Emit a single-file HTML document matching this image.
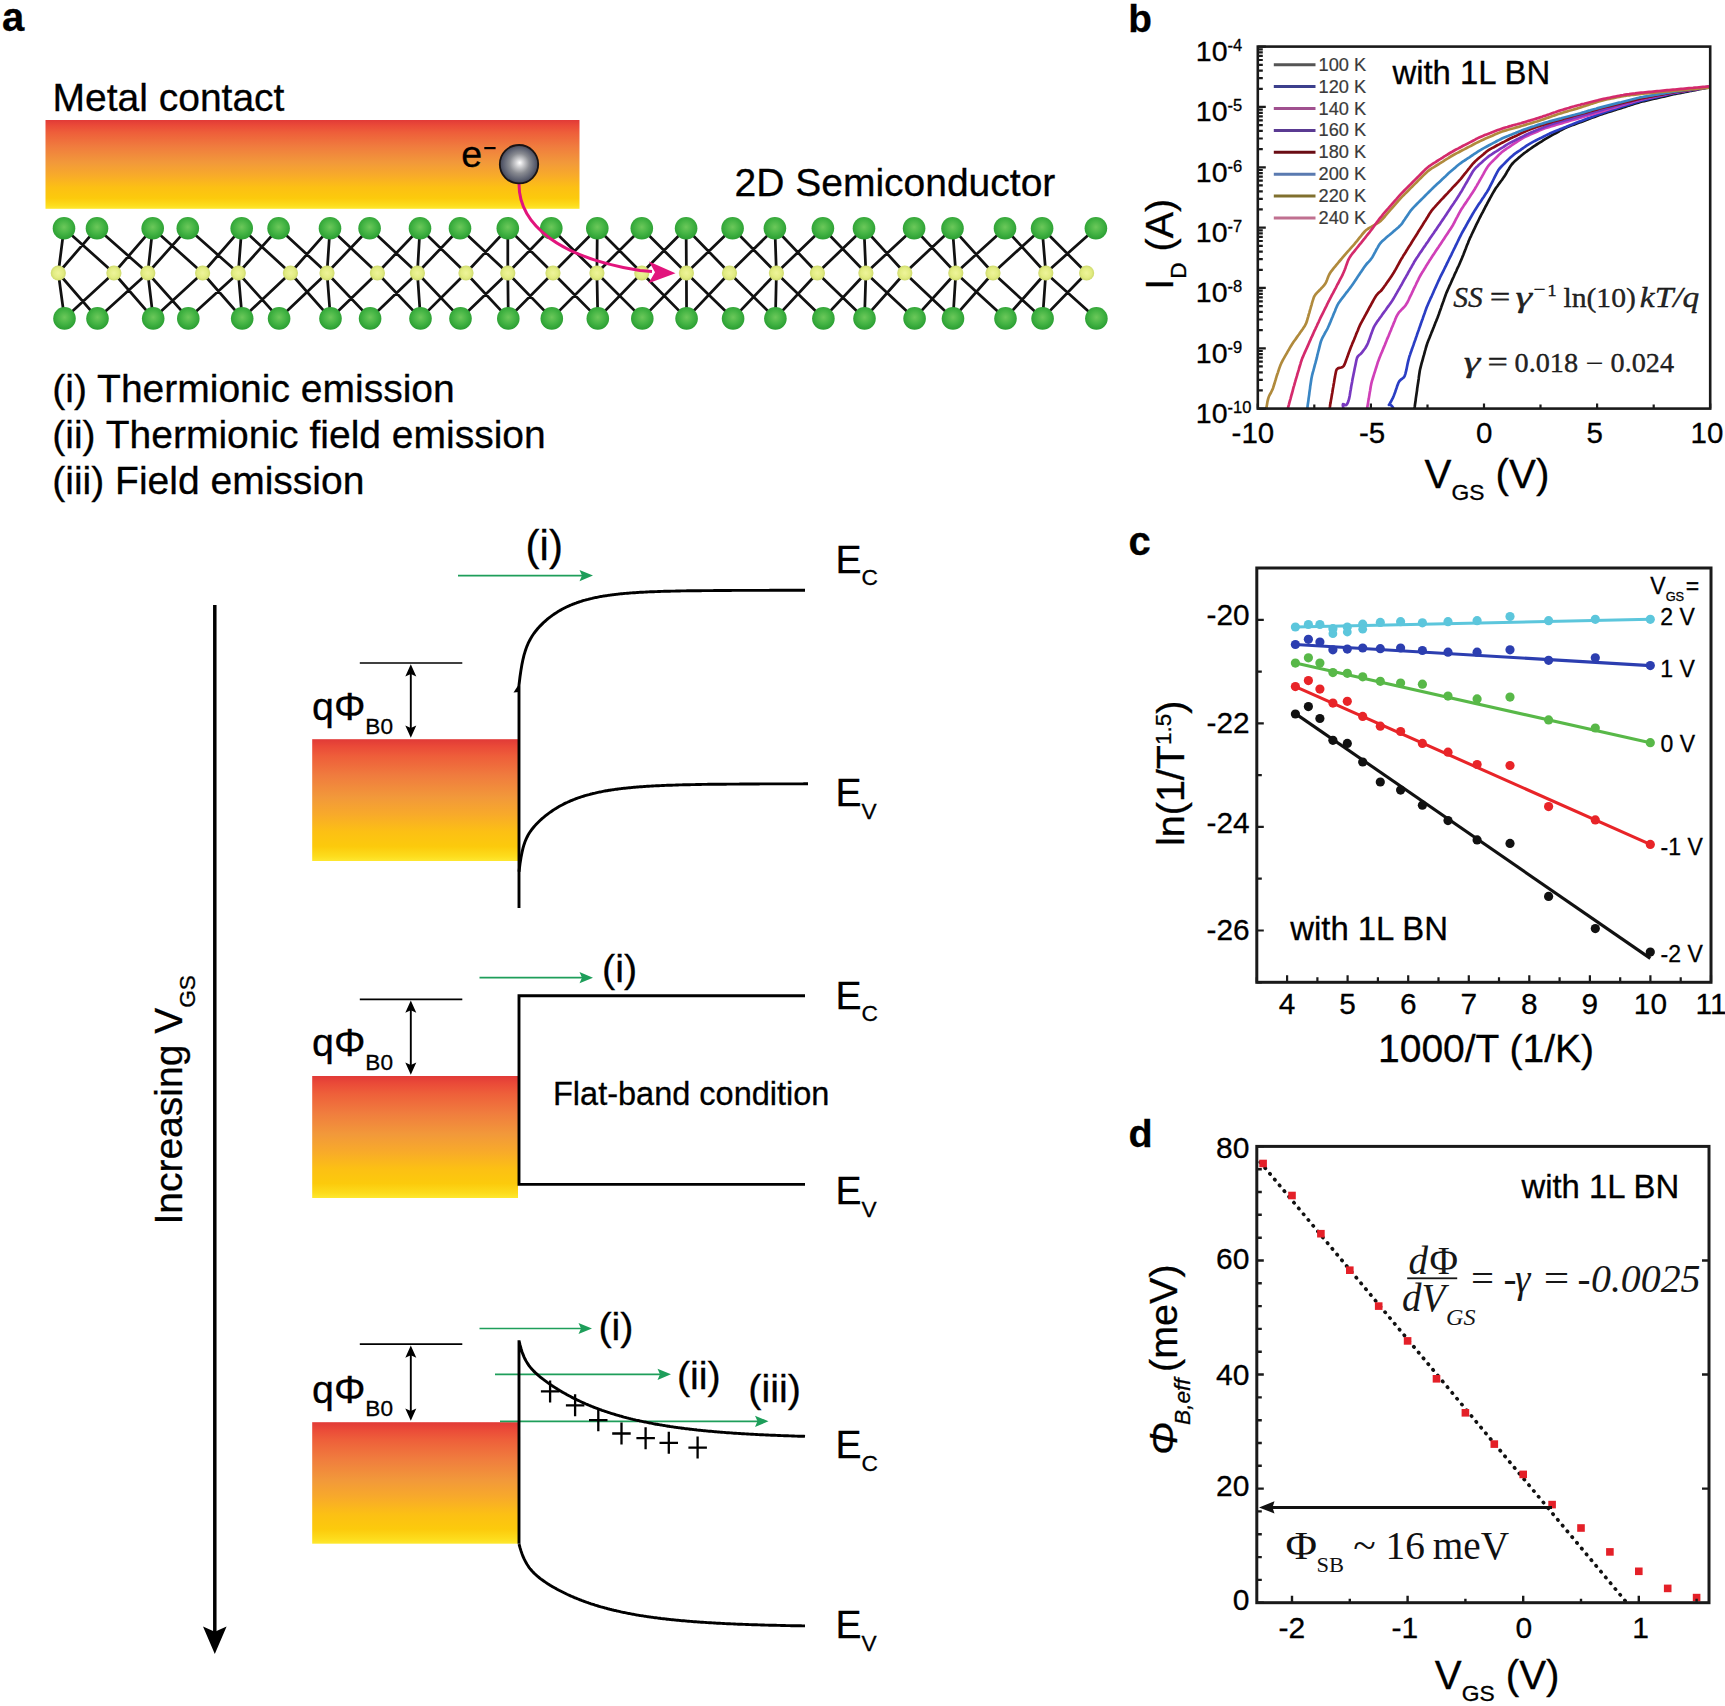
<!DOCTYPE html>
<html><head><meta charset="utf-8"><title>Figure</title>
<style>html,body{margin:0;padding:0;background:#fff;}svg{display:block;}text{stroke:#000;stroke-width:0.3px;}.ns text{stroke:none;}</style>
</head><body>
<svg width="1725" height="1706" viewBox="0 0 1725 1706">
<rect width="1725" height="1706" fill="#fff"/>

<defs>
 <linearGradient id="metal" x1="0" y1="0" x2="0" y2="1">
  <stop offset="0" stop-color="#e13a37"/>
  <stop offset="0.06" stop-color="#ea4a38"/>
  <stop offset="0.14" stop-color="#ee5e3a"/>
  <stop offset="0.3" stop-color="#f07c3e"/>
  <stop offset="0.48" stop-color="#f2993a"/>
  <stop offset="0.62" stop-color="#f8aa2a"/>
  <stop offset="0.76" stop-color="#fcc014"/>
  <stop offset="0.88" stop-color="#fcca0c"/>
  <stop offset="0.96" stop-color="#fddc1c"/>
  <stop offset="1" stop-color="#fee830"/>
 </linearGradient>
 <radialGradient id="gS" cx="0.5" cy="0.45" r="0.55">
  <stop offset="0" stop-color="#6cc85a"/>
  <stop offset="0.55" stop-color="#44b444"/>
  <stop offset="1" stop-color="#2a9e32"/>
 </radialGradient>
 <radialGradient id="gM" cx="0.5" cy="0.5" r="0.55">
  <stop offset="0" stop-color="#eef49a"/>
  <stop offset="0.6" stop-color="#e2ec82"/>
  <stop offset="1" stop-color="#c8d468"/>
 </radialGradient>
 <radialGradient id="ball" cx="0.5" cy="0.5" r="0.52" fx="0.52" fy="0.46">
  <stop offset="0" stop-color="#ffffff"/>
  <stop offset="0.18" stop-color="#d4d4d6"/>
  <stop offset="0.5" stop-color="#8a8c92"/>
  <stop offset="0.8" stop-color="#5c6070"/>
  <stop offset="1" stop-color="#3c4050"/>
 </radialGradient>
</defs>
<text x="2" y="31" font-family="'Liberation Sans', Arial, sans-serif" font-weight="bold" font-size="40">a</text>
<text x="52.5" y="110.5" font-family="'Liberation Sans', Arial, sans-serif" font-size="39">Metal contact</text>
<rect x="45.5" y="120" width="534" height="88.8" fill="url(#metal)"/>
<text x="461.2" y="166.6" font-family="'Liberation Sans', Arial, sans-serif" font-size="37.5" stroke="#000" stroke-width="0.5">e</text>
<rect x="484.3" y="147" width="11.3" height="2.2" fill="#000"/>
<path d="M58.3 273L64 228.2M58.3 273L64.5 318.4M58.3 273L97 228.2M58.3 273L97.5 318.4M147.8 273L152.7 228.2M147.8 273L153.2 318.4M147.8 273L187.8 228.2M147.8 273L188.3 318.4M147.8 273L97 228.2M147.8 273L97.5 318.4M238.3 273L241.7 228.2M238.3 273L242.2 318.4M238.3 273L278.6 228.2M238.3 273L279.1 318.4M238.3 273L187.8 228.2M238.3 273L188.3 318.4M327 273L330 228.2M327 273L330.5 318.4M327 273L369.6 228.2M327 273L370.1 318.4M327 273L278.6 228.2M327 273L279.1 318.4M417.4 273L420 228.2M417.4 273L420.5 318.4M417.4 273L460 228.2M417.4 273L460.5 318.4M417.4 273L369.6 228.2M417.4 273L370.1 318.4M507.8 273L507.8 228.2M507.8 273L508.3 318.4M507.8 273L551.3 228.2M507.8 273L551.8 318.4M507.8 273L460 228.2M507.8 273L460.5 318.4M596.9 273L597.3 228.2M596.9 273L597.8 318.4M596.9 273L641.8 228.2M596.9 273L642.3 318.4M596.9 273L551.3 228.2M596.9 273L551.8 318.4M686.4 273L686.1 228.2M686.4 273L686.6 318.4M686.4 273L732.6 228.2M686.4 273L733.1 318.4M686.4 273L641.8 228.2M686.4 273L642.3 318.4M776.4 273L774.9 228.2M776.4 273L775.4 318.4M776.4 273L822.9 228.2M776.4 273L823.4 318.4M776.4 273L732.6 228.2M776.4 273L733.1 318.4M865.9 273L864 228.2M865.9 273L864.5 318.4M865.9 273L914.1 228.2M865.9 273L914.6 318.4M865.9 273L822.9 228.2M865.9 273L823.4 318.4M955.8 273L952.5 228.2M955.8 273L953 318.4M955.8 273L1005 228.2M955.8 273L1005.5 318.4M955.8 273L914.1 228.2M955.8 273L914.6 318.4M1045.8 273L1042.1 228.2M1045.8 273L1042.6 318.4M1045.8 273L1095.9 228.2M1045.8 273L1096.4 318.4M1045.8 273L1005 228.2M1045.8 273L1005.5 318.4M113.9 273L64 228.2M113.9 273L64.5 318.4M113.9 273L152.7 228.2M113.9 273L153.2 318.4M202.6 273L152.7 228.2M202.6 273L153.2 318.4M202.6 273L241.7 228.2M202.6 273L242.2 318.4M290.4 273L241.7 228.2M290.4 273L242.2 318.4M290.4 273L330 228.2M290.4 273L330.5 318.4M377.4 273L330 228.2M377.4 273L330.5 318.4M377.4 273L420 228.2M377.4 273L420.5 318.4M466 273L420 228.2M466 273L420.5 318.4M466 273L507.8 228.2M466 273L508.3 318.4M553 273L507.8 228.2M553 273L508.3 318.4M553 273L597.3 228.2M553 273L597.8 318.4M641.8 273L597.3 228.2M641.8 273L597.8 318.4M641.8 273L686.1 228.2M641.8 273L686.6 318.4M729.5 273L686.1 228.2M729.5 273L686.6 318.4M729.5 273L774.9 228.2M729.5 273L775.4 318.4M817.4 273L774.9 228.2M817.4 273L775.4 318.4M817.4 273L864 228.2M817.4 273L864.5 318.4M904.8 273L864 228.2M904.8 273L864.5 318.4M904.8 273L952.5 228.2M904.8 273L953 318.4M993 273L952.5 228.2M993 273L953 318.4M993 273L1042.1 228.2M993 273L1042.6 318.4M1086.6 273L1042.1 228.2M1086.6 273L1042.6 318.4" stroke="#111" stroke-width="2.75" fill="none" stroke-linecap="round"/>
<circle cx="64" cy="228.2" r="11.3" fill="url(#gS)"/>
<circle cx="64.5" cy="318.4" r="11.3" fill="url(#gS)"/>
<circle cx="97" cy="228.2" r="11.3" fill="url(#gS)"/>
<circle cx="97.5" cy="318.4" r="11.3" fill="url(#gS)"/>
<circle cx="152.7" cy="228.2" r="11.3" fill="url(#gS)"/>
<circle cx="153.2" cy="318.4" r="11.3" fill="url(#gS)"/>
<circle cx="187.8" cy="228.2" r="11.3" fill="url(#gS)"/>
<circle cx="188.3" cy="318.4" r="11.3" fill="url(#gS)"/>
<circle cx="241.7" cy="228.2" r="11.3" fill="url(#gS)"/>
<circle cx="242.2" cy="318.4" r="11.3" fill="url(#gS)"/>
<circle cx="278.6" cy="228.2" r="11.3" fill="url(#gS)"/>
<circle cx="279.1" cy="318.4" r="11.3" fill="url(#gS)"/>
<circle cx="330" cy="228.2" r="11.3" fill="url(#gS)"/>
<circle cx="330.5" cy="318.4" r="11.3" fill="url(#gS)"/>
<circle cx="369.6" cy="228.2" r="11.3" fill="url(#gS)"/>
<circle cx="370.1" cy="318.4" r="11.3" fill="url(#gS)"/>
<circle cx="420" cy="228.2" r="11.3" fill="url(#gS)"/>
<circle cx="420.5" cy="318.4" r="11.3" fill="url(#gS)"/>
<circle cx="460" cy="228.2" r="11.3" fill="url(#gS)"/>
<circle cx="460.5" cy="318.4" r="11.3" fill="url(#gS)"/>
<circle cx="507.8" cy="228.2" r="11.3" fill="url(#gS)"/>
<circle cx="508.3" cy="318.4" r="11.3" fill="url(#gS)"/>
<circle cx="551.3" cy="228.2" r="11.3" fill="url(#gS)"/>
<circle cx="551.8" cy="318.4" r="11.3" fill="url(#gS)"/>
<circle cx="597.3" cy="228.2" r="11.3" fill="url(#gS)"/>
<circle cx="597.8" cy="318.4" r="11.3" fill="url(#gS)"/>
<circle cx="641.8" cy="228.2" r="11.3" fill="url(#gS)"/>
<circle cx="642.3" cy="318.4" r="11.3" fill="url(#gS)"/>
<circle cx="686.1" cy="228.2" r="11.3" fill="url(#gS)"/>
<circle cx="686.6" cy="318.4" r="11.3" fill="url(#gS)"/>
<circle cx="732.6" cy="228.2" r="11.3" fill="url(#gS)"/>
<circle cx="733.1" cy="318.4" r="11.3" fill="url(#gS)"/>
<circle cx="774.9" cy="228.2" r="11.3" fill="url(#gS)"/>
<circle cx="775.4" cy="318.4" r="11.3" fill="url(#gS)"/>
<circle cx="822.9" cy="228.2" r="11.3" fill="url(#gS)"/>
<circle cx="823.4" cy="318.4" r="11.3" fill="url(#gS)"/>
<circle cx="864" cy="228.2" r="11.3" fill="url(#gS)"/>
<circle cx="864.5" cy="318.4" r="11.3" fill="url(#gS)"/>
<circle cx="914.1" cy="228.2" r="11.3" fill="url(#gS)"/>
<circle cx="914.6" cy="318.4" r="11.3" fill="url(#gS)"/>
<circle cx="952.5" cy="228.2" r="11.3" fill="url(#gS)"/>
<circle cx="953" cy="318.4" r="11.3" fill="url(#gS)"/>
<circle cx="1005" cy="228.2" r="11.3" fill="url(#gS)"/>
<circle cx="1005.5" cy="318.4" r="11.3" fill="url(#gS)"/>
<circle cx="1042.1" cy="228.2" r="11.3" fill="url(#gS)"/>
<circle cx="1042.6" cy="318.4" r="11.3" fill="url(#gS)"/>
<circle cx="1095.9" cy="228.2" r="11.3" fill="url(#gS)"/>
<circle cx="1096.4" cy="318.4" r="11.3" fill="url(#gS)"/>
<circle cx="58.3" cy="273" r="7.6" fill="url(#gM)"/>
<circle cx="113.9" cy="273" r="7.6" fill="url(#gM)"/>
<circle cx="147.8" cy="273" r="7.6" fill="url(#gM)"/>
<circle cx="202.6" cy="273" r="7.6" fill="url(#gM)"/>
<circle cx="238.3" cy="273" r="7.6" fill="url(#gM)"/>
<circle cx="290.4" cy="273" r="7.6" fill="url(#gM)"/>
<circle cx="327" cy="273" r="7.6" fill="url(#gM)"/>
<circle cx="377.4" cy="273" r="7.6" fill="url(#gM)"/>
<circle cx="417.4" cy="273" r="7.6" fill="url(#gM)"/>
<circle cx="466" cy="273" r="7.6" fill="url(#gM)"/>
<circle cx="507.8" cy="273" r="7.6" fill="url(#gM)"/>
<circle cx="553" cy="273" r="7.6" fill="url(#gM)"/>
<circle cx="596.9" cy="273" r="7.6" fill="url(#gM)"/>
<circle cx="641.8" cy="273" r="7.6" fill="url(#gM)"/>
<circle cx="686.4" cy="273" r="7.6" fill="url(#gM)"/>
<circle cx="729.5" cy="273" r="7.6" fill="url(#gM)"/>
<circle cx="776.4" cy="273" r="7.6" fill="url(#gM)"/>
<circle cx="817.4" cy="273" r="7.6" fill="url(#gM)"/>
<circle cx="865.9" cy="273" r="7.6" fill="url(#gM)"/>
<circle cx="904.8" cy="273" r="7.6" fill="url(#gM)"/>
<circle cx="955.8" cy="273" r="7.6" fill="url(#gM)"/>
<circle cx="993" cy="273" r="7.6" fill="url(#gM)"/>
<circle cx="1045.8" cy="273" r="7.6" fill="url(#gM)"/>
<circle cx="1086.6" cy="273" r="7.6" fill="url(#gM)"/>
<path d="M519 184 C519 225 560 258 640 270.5 L652 271.6" stroke="#e2147c" stroke-width="3" fill="none"/>
<path d="M675.5 273.2 L649 261.5 L655 272.2 L648.5 283.2 Z" fill="#e2147c"/>
<circle cx="519" cy="164.2" r="19.2" fill="url(#ball)" stroke="#1a1414" stroke-width="1.8"/>
<text x="734.5" y="195.5" font-family="'Liberation Sans', Arial, sans-serif" font-size="39">2D Semiconductor</text>
<text x="52.3" y="401.6" font-family="'Liberation Sans', Arial, sans-serif" font-size="39">(i) Thermionic emission</text>
<text x="52.3" y="447.6" font-family="'Liberation Sans', Arial, sans-serif" font-size="39">(ii) Thermionic field emission</text>
<text x="52.3" y="493.6" font-family="'Liberation Sans', Arial, sans-serif" font-size="39">(iii) Field emission</text>
<rect x="312.2" y="739.2" width="205.8" height="121.8" fill="url(#metal)"/>
<text x="525.6" y="559.7" font-family="'Liberation Sans', Arial, sans-serif" font-size="42">(i)</text>
<line x1="458" y1="575.6" x2="587" y2="575.6" stroke="#1e9e5a" stroke-width="1.7"/>
<path d="M593 575.6 L579.5 570 L582 575.6 L579.5 581.2 Z" fill="#1e9e5a"/>
<path d="M805 590.3 L804 590.3 L803 590.3 L802 590.3 L801 590.3 L800 590.3 L799 590.3 L798 590.3 L797 590.3 L796 590.3 L795 590.3 L794 590.3 L793 590.3 L792 590.3 L791 590.3 L790 590.3 L789 590.3 L788 590.3 L787 590.3 L786 590.3 L785 590.3 L784 590.3 L783 590.3 L782 590.3 L781 590.3 L780 590.3 L779 590.3 L778 590.3 L777 590.3 L776 590.3 L775 590.3 L774 590.3 L773 590.3 L772 590.3 L771 590.3 L770 590.3 L769 590.4 L768 590.4 L767 590.4 L766 590.4 L765 590.4 L764 590.4 L763 590.4 L762 590.4 L761 590.4 L760 590.4 L759 590.4 L758 590.4 L757 590.4 L756 590.4 L755 590.4 L754 590.4 L753 590.4 L752 590.4 L751 590.4 L750 590.4 L749 590.4 L748 590.4 L747 590.4 L746 590.4 L745 590.4 L744 590.4 L743 590.4 L742 590.4 L741 590.4 L740 590.4 L739 590.4 L738 590.4 L737 590.4 L736 590.4 L735 590.4 L734 590.4 L733 590.4 L732 590.4 L731 590.5 L730 590.5 L729 590.5 L728 590.5 L727 590.5 L726 590.5 L725 590.5 L724 590.5 L723 590.5 L722 590.5 L721 590.5 L720 590.5 L719 590.5 L718 590.5 L717 590.5 L716 590.5 L715 590.5 L714 590.5 L713 590.6 L712 590.6 L711 590.6 L710 590.6 L709 590.6 L708 590.6 L707 590.6 L706 590.6 L705 590.6 L704 590.6 L703 590.6 L702 590.6 L701 590.7 L700 590.7 L699 590.7 L698 590.7 L697 590.7 L696 590.7 L695 590.7 L694 590.7 L693 590.8 L692 590.8 L691 590.8 L690 590.8 L689 590.8 L688 590.8 L687 590.8 L686 590.9 L685 590.9 L684 590.9 L683 590.9 L682 590.9 L681 590.9 L680 591 L679 591 L678 591 L677 591 L676 591 L675 591.1 L674 591.1 L673 591.1 L672 591.1 L671 591.1 L670 591.2 L669 591.2 L668 591.2 L667 591.2 L666 591.3 L665 591.3 L664 591.3 L663 591.4 L662 591.4 L661 591.4 L660 591.5 L659 591.5 L658 591.5 L657 591.6 L656 591.6 L655 591.6 L654 591.7 L653 591.7 L652 591.8 L651 591.8 L650 591.8 L649 591.9 L648 591.9 L647 592 L646 592 L645 592.1 L644 592.1 L643 592.2 L642 592.2 L641 592.3 L640 592.3 L639 592.4 L638 592.5 L637 592.5 L636 592.6 L635 592.7 L634 592.7 L633 592.8 L632 592.9 L631 592.9 L630 593 L629 593.1 L628 593.2 L627 593.3 L626 593.4 L625 593.4 L624 593.5 L623 593.6 L622 593.7 L621 593.8 L620 593.9 L619 594 L618 594.1 L617 594.3 L616 594.4 L615 594.5 L614 594.6 L613 594.7 L612 594.9 L611 595 L610 595.1 L609 595.3 L608 595.4 L607 595.6 L606 595.7 L605 595.9 L604 596 L603 596.2 L602 596.4 L601 596.5 L600 596.7 L599 596.9 L598 597.1 L597 597.3 L596 597.5 L595 597.7 L594 597.9 L593 598.1 L592 598.4 L591 598.6 L590 598.8 L589 599.1 L588 599.4 L587 599.6 L586 599.9 L585 600.2 L584 600.4 L583 600.7 L582 601 L581 601.4 L580 601.7 L579 602 L578 602.3 L577 602.7 L576 603.1 L575 603.4 L574 603.8 L573 604.2 L572 604.6 L571 605 L570 605.4 L569 605.9 L568 606.3 L567 606.8 L566 607.3 L565 607.8 L564 608.3 L563 608.8 L562 609.3 L561 609.9 L560 610.4 L559 611 L558 611.6 L557 612.3 L556 612.9 L555 613.5 L554 614.2 L553 614.9 L552 615.6 L551 616.4 L550 617.1 L549 617.9 L548 618.7 L547 619.5 L546 620.4 L545 621.3 L544 622.2 L543 623.1 L542 624.1 L541 625.1 L540 626.1 L539 627.2 L538 628.3 L537 629.5 L536 630.7 L535 632 L534 633.3 L533 634.8 L532 636.3 L531 637.9 L530 639.7 L529 641.6 L528 643.7 L527 646.1 L526 648.7 L525 651.8 L524 655.2 L523 659.3 L522 664.1 L521 669.9 L520 676.8 L519 685 L519 908" stroke="#000" stroke-width="2.9" fill="none" stroke-linejoin="round"/>
<path d="M519 871.8 L520 863.8 L521 857.5 L522 852.4 L523 848.2 L524 844.7 L525 841.8 L526 839.4 L527 837.2 L528 835.3 L529 833.6 L530 832 L531 830.6 L532 829.2 L533 828 L534 826.8 L535 825.6 L536 824.5 L537 823.5 L538 822.5 L539 821.5 L540 820.5 L541 819.6 L542 818.7 L543 817.9 L544 817 L545 816.2 L546 815.4 L547 814.6 L548 813.8 L549 813.1 L550 812.4 L551 811.7 L552 811 L553 810.3 L554 809.6 L555 809 L556 808.4 L557 807.8 L558 807.2 L559 806.6 L560 806 L561 805.5 L562 805 L563 804.4 L564 803.9 L565 803.4 L566 802.9 L567 802.5 L568 802 L569 801.6 L570 801.1 L571 800.7 L572 800.3 L573 799.9 L574 799.5 L575 799.1 L576 798.7 L577 798.3 L578 798 L579 797.6 L580 797.3 L581 797 L582 796.6 L583 796.3 L584 796 L585 795.7 L586 795.4 L587 795.1 L588 794.8 L589 794.6 L590 794.3 L591 794 L592 793.8 L593 793.5 L594 793.3 L595 793.1 L596 792.8 L597 792.6 L598 792.4 L599 792.2 L600 792 L601 791.8 L602 791.6 L603 791.4 L604 791.2 L605 791 L606 790.8 L607 790.7 L608 790.5 L609 790.3 L610 790.2 L611 790 L612 789.9 L613 789.7 L614 789.6 L615 789.4 L616 789.3 L617 789.2 L618 789 L619 788.9 L620 788.8 L621 788.6 L622 788.5 L623 788.4 L624 788.3 L625 788.2 L626 788.1 L627 788 L628 787.9 L629 787.8 L630 787.7 L631 787.6 L632 787.5 L633 787.4 L634 787.3 L635 787.2 L636 787.1 L637 787 L638 787 L639 786.9 L640 786.8 L641 786.7 L642 786.7 L643 786.6 L644 786.5 L645 786.5 L646 786.4 L647 786.3 L648 786.3 L649 786.2 L650 786.1 L651 786.1 L652 786 L653 786 L654 785.9 L655 785.9 L656 785.8 L657 785.8 L658 785.7 L659 785.7 L660 785.6 L661 785.6 L662 785.5 L663 785.5 L664 785.5 L665 785.4 L666 785.4 L667 785.3 L668 785.3 L669 785.3 L670 785.2 L671 785.2 L672 785.2 L673 785.1 L674 785.1 L675 785.1 L676 785 L677 785 L678 785 L679 784.9 L680 784.9 L681 784.9 L682 784.9 L683 784.8 L684 784.8 L685 784.8 L686 784.8 L687 784.7 L688 784.7 L689 784.7 L690 784.7 L691 784.6 L692 784.6 L693 784.6 L694 784.6 L695 784.6 L696 784.5 L697 784.5 L698 784.5 L699 784.5 L700 784.5 L701 784.5 L702 784.4 L703 784.4 L704 784.4 L705 784.4 L706 784.4 L707 784.4 L708 784.3 L709 784.3 L710 784.3 L711 784.3 L712 784.3 L713 784.3 L714 784.3 L715 784.3 L716 784.3 L717 784.2 L718 784.2 L719 784.2 L720 784.2 L721 784.2 L722 784.2 L723 784.2 L724 784.2 L725 784.2 L726 784.2 L727 784.1 L728 784.1 L729 784.1 L730 784.1 L731 784.1 L732 784.1 L733 784.1 L734 784.1 L735 784.1 L736 784.1 L737 784.1 L738 784.1 L739 784.1 L740 784 L741 784 L742 784 L743 784 L744 784 L745 784 L746 784 L747 784 L748 784 L749 784 L750 784 L751 784 L752 784 L753 784 L754 784 L755 784 L756 784 L757 784 L758 784 L759 784 L760 783.9 L761 783.9 L762 783.9 L763 783.9 L764 783.9 L765 783.9 L766 783.9 L767 783.9 L768 783.9 L769 783.9 L770 783.9 L771 783.9 L772 783.9 L773 783.9 L774 783.9 L775 783.9 L776 783.9 L777 783.9 L778 783.9 L779 783.9 L780 783.9 L781 783.9 L782 783.9 L783 783.9 L784 783.9 L785 783.9 L786 783.9 L787 783.9 L788 783.9 L789 783.9 L790 783.9 L791 783.9 L792 783.9 L793 783.9 L794 783.9 L795 783.9 L796 783.9 L797 783.9 L798 783.9 L799 783.9 L800 783.9 L801 783.9 L802 783.9 L803 783.9 L804 783.8 L805 783.8 L806 783.8 L807 783.8 L808 783.8" stroke="#000" stroke-width="2.9" fill="none"/>
<path d="M519 684 L513.5 692.5 L519 692 Z" fill="#000"/>
<line x1="359.8" y1="663" x2="462.3" y2="663" stroke="#000" stroke-width="1.7"/>
<line x1="410.8" y1="671.5" x2="410.8" y2="730.5" stroke="#000" stroke-width="1.9"/>
<path d="M410.8 664.3 L405.3 676.5 L410.8 674 L416.3 676.5 Z" fill="#000"/>
<path d="M410.8 737.7 L405.3 725.5 L410.8 728 L416.3 725.5 Z" fill="#000"/>
<text x="312" y="720" font-family="'Liberation Sans', Arial, sans-serif" font-size="39.4">qΦ<tspan font-size="22.6" dy="13.5">B0</tspan></text>
<text x="835.5" y="572.6" font-family="'Liberation Sans', Arial, sans-serif" font-size="39">E<tspan font-size="22.7" dy="12.5">C</tspan></text>
<text x="835.5" y="806" font-family="'Liberation Sans', Arial, sans-serif" font-size="39">E<tspan font-size="22.7" dy="12.5">V</tspan></text>
<rect x="312.2" y="1076" width="205.8" height="122" fill="url(#metal)"/>
<text x="602" y="982.4" font-family="'Liberation Sans', Arial, sans-serif" font-size="39.5">(i)</text>
<line x1="479.5" y1="977.7" x2="587" y2="977.7" stroke="#1e9e5a" stroke-width="1.7"/>
<path d="M593 977.7 L579.5 972.1 L582 977.7 L579.5 983.3 Z" fill="#1e9e5a"/>
<path d="M805 995.8 L519 995.8 L519 1184.4 L805 1184.4" stroke="#000" stroke-width="2.9" fill="none" stroke-linejoin="miter"/>
<line x1="359.8" y1="999.3" x2="462.3" y2="999.3" stroke="#000" stroke-width="1.7"/>
<line x1="410.8" y1="1007.8" x2="410.8" y2="1067.5" stroke="#000" stroke-width="1.9"/>
<path d="M410.8 1000.6 L405.3 1012.8 L410.8 1010.3 L416.3 1012.8 Z" fill="#000"/>
<path d="M410.8 1074.7 L405.3 1062.5 L410.8 1065 L416.3 1062.5 Z" fill="#000"/>
<text x="312" y="1056" font-family="'Liberation Sans', Arial, sans-serif" font-size="39.4">qΦ<tspan font-size="22.6" dy="13.5">B0</tspan></text>
<text x="553" y="1105.3" font-family="'Liberation Sans', Arial, sans-serif" font-size="32.5">Flat-band condition</text>
<text x="835.5" y="1008.5" font-family="'Liberation Sans', Arial, sans-serif" font-size="39">E<tspan font-size="22.7" dy="12.5">C</tspan></text>
<text x="835.5" y="1204" font-family="'Liberation Sans', Arial, sans-serif" font-size="39">E<tspan font-size="22.7" dy="12.5">V</tspan></text>
<rect x="312.2" y="1422.2" width="205.8" height="121.5" fill="url(#metal)"/>
<line x1="479.5" y1="1328.5" x2="586" y2="1328.5" stroke="#1e9e5a" stroke-width="1.7"/>
<path d="M592 1328.5 L578.5 1322.9 L581 1328.5 L578.5 1334.1 Z" fill="#1e9e5a"/>
<line x1="495" y1="1374.3" x2="665" y2="1374.3" stroke="#1e9e5a" stroke-width="1.7"/>
<path d="M671 1374.3 L657.5 1368.7 L660 1374.3 L657.5 1379.9 Z" fill="#1e9e5a"/>
<line x1="500" y1="1421.3" x2="762.5" y2="1421.3" stroke="#1e9e5a" stroke-width="1.7"/>
<path d="M768.5 1421.3 L755 1415.7 L757.5 1421.3 L755 1426.9 Z" fill="#1e9e5a"/>
<text x="598.4" y="1340" font-family="'Liberation Sans', Arial, sans-serif" font-size="39.5">(i)</text>
<text x="676.9" y="1389.1" font-family="'Liberation Sans', Arial, sans-serif" font-size="39.5">(ii)</text>
<text x="748.3" y="1401.8" font-family="'Liberation Sans', Arial, sans-serif" font-size="39.5">(iii)</text>
<path d="M805 1436.4 L804 1436.3 L803 1436.3 L802 1436.3 L801 1436.2 L800 1436.2 L799 1436.2 L798 1436.2 L797 1436.1 L796 1436.1 L795 1436.1 L794 1436 L793 1436 L792 1436 L791 1435.9 L790 1435.9 L789 1435.9 L788 1435.8 L787 1435.8 L786 1435.8 L785 1435.7 L784 1435.7 L783 1435.6 L782 1435.6 L781 1435.6 L780 1435.5 L779 1435.5 L778 1435.5 L777 1435.4 L776 1435.4 L775 1435.3 L774 1435.3 L773 1435.3 L772 1435.2 L771 1435.2 L770 1435.1 L769 1435.1 L768 1435 L767 1435 L766 1435 L765 1434.9 L764 1434.9 L763 1434.8 L762 1434.8 L761 1434.7 L760 1434.7 L759 1434.6 L758 1434.6 L757 1434.5 L756 1434.5 L755 1434.4 L754 1434.4 L753 1434.3 L752 1434.3 L751 1434.2 L750 1434.1 L749 1434.1 L748 1434 L747 1434 L746 1433.9 L745 1433.9 L744 1433.8 L743 1433.7 L742 1433.7 L741 1433.6 L740 1433.5 L739 1433.5 L738 1433.4 L737 1433.4 L736 1433.3 L735 1433.2 L734 1433.2 L733 1433.1 L732 1433 L731 1432.9 L730 1432.9 L729 1432.8 L728 1432.7 L727 1432.7 L726 1432.6 L725 1432.5 L724 1432.4 L723 1432.4 L722 1432.3 L721 1432.2 L720 1432.1 L719 1432 L718 1432 L717 1431.9 L716 1431.8 L715 1431.7 L714 1431.6 L713 1431.5 L712 1431.4 L711 1431.3 L710 1431.3 L709 1431.2 L708 1431.1 L707 1431 L706 1430.9 L705 1430.8 L704 1430.7 L703 1430.6 L702 1430.5 L701 1430.4 L700 1430.3 L699 1430.2 L698 1430.1 L697 1430 L696 1429.8 L695 1429.7 L694 1429.6 L693 1429.5 L692 1429.4 L691 1429.3 L690 1429.2 L689 1429 L688 1428.9 L687 1428.8 L686 1428.7 L685 1428.6 L684 1428.4 L683 1428.3 L682 1428.2 L681 1428 L680 1427.9 L679 1427.8 L678 1427.6 L677 1427.5 L676 1427.4 L675 1427.2 L674 1427.1 L673 1426.9 L672 1426.8 L671 1426.6 L670 1426.5 L669 1426.3 L668 1426.2 L667 1426 L666 1425.9 L665 1425.7 L664 1425.5 L663 1425.4 L662 1425.2 L661 1425 L660 1424.9 L659 1424.7 L658 1424.5 L657 1424.3 L656 1424.2 L655 1424 L654 1423.8 L653 1423.6 L652 1423.4 L651 1423.2 L650 1423 L649 1422.8 L648 1422.6 L647 1422.4 L646 1422.2 L645 1422 L644 1421.8 L643 1421.6 L642 1421.4 L641 1421.2 L640 1421 L639 1420.7 L638 1420.5 L637 1420.3 L636 1420.1 L635 1419.8 L634 1419.6 L633 1419.4 L632 1419.1 L631 1418.9 L630 1418.6 L629 1418.4 L628 1418.1 L627 1417.9 L626 1417.6 L625 1417.3 L624 1417.1 L623 1416.8 L622 1416.5 L621 1416.2 L620 1416 L619 1415.7 L618 1415.4 L617 1415.1 L616 1414.8 L615 1414.5 L614 1414.2 L613 1413.9 L612 1413.6 L611 1413.3 L610 1413 L609 1412.6 L608 1412.3 L607 1412 L606 1411.6 L605 1411.3 L604 1411 L603 1410.6 L602 1410.3 L601 1409.9 L600 1409.5 L599 1409.2 L598 1408.8 L597 1408.4 L596 1408 L595 1407.7 L594 1407.3 L593 1406.9 L592 1406.5 L591 1406.1 L590 1405.7 L589 1405.3 L588 1404.8 L587 1404.4 L586 1404 L585 1403.5 L584 1403.1 L583 1402.7 L582 1402.2 L581 1401.7 L580 1401.3 L579 1400.8 L578 1400.3 L577 1399.9 L576 1399.4 L575 1398.9 L574 1398.4 L573 1397.9 L572 1397.4 L571 1396.8 L570 1396.3 L569 1395.8 L568 1395.2 L567 1394.7 L566 1394.1 L565 1393.6 L564 1393 L563 1392.4 L562 1391.9 L561 1391.3 L560 1390.7 L559 1390.1 L558 1389.5 L557 1388.8 L556 1388.2 L555 1387.6 L554 1386.9 L553 1386.3 L552 1385.6 L551 1384.9 L550 1384.3 L549 1383.6 L548 1382.9 L547 1382.2 L546 1381.4 L545 1380.7 L544 1379.9 L543 1379.2 L542 1378.4 L541 1377.6 L540 1376.8 L539 1376 L538 1375.1 L537 1374.2 L536 1373.3 L535 1372.4 L534 1371.4 L533 1370.3 L532 1369.3 L531 1368.1 L530 1366.9 L529 1365.6 L528 1364.1 L527 1362.6 L526 1360.9 L525 1359 L524 1356.8 L523 1354.4 L522 1351.7 L521 1348.5 L520 1344.9 L519 1340.6 L519 1340.3 L519 1543.7" stroke="#000" stroke-width="2.9" fill="none"/>
<path d="M519 1544 L520 1547.7 L521 1550.9 L522 1553.8 L523 1556.4 L524 1558.7 L525 1560.7 L526 1562.6 L527 1564.3 L528 1565.8 L529 1567.3 L530 1568.6 L531 1569.8 L532 1571 L533 1572 L534 1573.1 L535 1574 L536 1575 L537 1575.8 L538 1576.7 L539 1577.5 L540 1578.3 L541 1579.1 L542 1579.8 L543 1580.5 L544 1581.2 L545 1581.9 L546 1582.6 L547 1583.3 L548 1583.9 L549 1584.5 L550 1585.2 L551 1585.8 L552 1586.4 L553 1586.9 L554 1587.5 L555 1588.1 L556 1588.6 L557 1589.2 L558 1589.7 L559 1590.3 L560 1590.8 L561 1591.3 L562 1591.8 L563 1592.3 L564 1592.8 L565 1593.3 L566 1593.8 L567 1594.3 L568 1594.7 L569 1595.2 L570 1595.6 L571 1596.1 L572 1596.5 L573 1596.9 L574 1597.4 L575 1597.8 L576 1598.2 L577 1598.6 L578 1599 L579 1599.4 L580 1599.8 L581 1600.2 L582 1600.6 L583 1600.9 L584 1601.3 L585 1601.7 L586 1602 L587 1602.4 L588 1602.7 L589 1603.1 L590 1603.4 L591 1603.8 L592 1604.1 L593 1604.4 L594 1604.7 L595 1605.1 L596 1605.4 L597 1605.7 L598 1606 L599 1606.3 L600 1606.6 L601 1606.9 L602 1607.1 L603 1607.4 L604 1607.7 L605 1608 L606 1608.2 L607 1608.5 L608 1608.8 L609 1609 L610 1609.3 L611 1609.5 L612 1609.8 L613 1610 L614 1610.3 L615 1610.5 L616 1610.7 L617 1611 L618 1611.2 L619 1611.4 L620 1611.6 L621 1611.9 L622 1612.1 L623 1612.3 L624 1612.5 L625 1612.7 L626 1612.9 L627 1613.1 L628 1613.3 L629 1613.5 L630 1613.7 L631 1613.9 L632 1614.1 L633 1614.2 L634 1614.4 L635 1614.6 L636 1614.8 L637 1615 L638 1615.1 L639 1615.3 L640 1615.5 L641 1615.6 L642 1615.8 L643 1615.9 L644 1616.1 L645 1616.3 L646 1616.4 L647 1616.6 L648 1616.7 L649 1616.9 L650 1617 L651 1617.1 L652 1617.3 L653 1617.4 L654 1617.6 L655 1617.7 L656 1617.8 L657 1617.9 L658 1618.1 L659 1618.2 L660 1618.3 L661 1618.5 L662 1618.6 L663 1618.7 L664 1618.8 L665 1618.9 L666 1619 L667 1619.2 L668 1619.3 L669 1619.4 L670 1619.5 L671 1619.6 L672 1619.7 L673 1619.8 L674 1619.9 L675 1620 L676 1620.1 L677 1620.2 L678 1620.3 L679 1620.4 L680 1620.5 L681 1620.6 L682 1620.7 L683 1620.8 L684 1620.8 L685 1620.9 L686 1621 L687 1621.1 L688 1621.2 L689 1621.3 L690 1621.4 L691 1621.4 L692 1621.5 L693 1621.6 L694 1621.7 L695 1621.7 L696 1621.8 L697 1621.9 L698 1622 L699 1622 L700 1622.1 L701 1622.2 L702 1622.2 L703 1622.3 L704 1622.4 L705 1622.4 L706 1622.5 L707 1622.6 L708 1622.6 L709 1622.7 L710 1622.8 L711 1622.8 L712 1622.9 L713 1622.9 L714 1623 L715 1623 L716 1623.1 L717 1623.2 L718 1623.2 L719 1623.3 L720 1623.3 L721 1623.4 L722 1623.4 L723 1623.5 L724 1623.5 L725 1623.6 L726 1623.6 L727 1623.7 L728 1623.7 L729 1623.8 L730 1623.8 L731 1623.9 L732 1623.9 L733 1623.9 L734 1624 L735 1624 L736 1624.1 L737 1624.1 L738 1624.2 L739 1624.2 L740 1624.2 L741 1624.3 L742 1624.3 L743 1624.4 L744 1624.4 L745 1624.4 L746 1624.5 L747 1624.5 L748 1624.5 L749 1624.6 L750 1624.6 L751 1624.6 L752 1624.7 L753 1624.7 L754 1624.7 L755 1624.8 L756 1624.8 L757 1624.8 L758 1624.9 L759 1624.9 L760 1624.9 L761 1625 L762 1625 L763 1625 L764 1625 L765 1625.1 L766 1625.1 L767 1625.1 L768 1625.1 L769 1625.2 L770 1625.2 L771 1625.2 L772 1625.2 L773 1625.3 L774 1625.3 L775 1625.3 L776 1625.3 L777 1625.4 L778 1625.4 L779 1625.4 L780 1625.4 L781 1625.5 L782 1625.5 L783 1625.5 L784 1625.5 L785 1625.5 L786 1625.6 L787 1625.6 L788 1625.6 L789 1625.6 L790 1625.6 L791 1625.7 L792 1625.7 L793 1625.7 L794 1625.7 L795 1625.7 L796 1625.8 L797 1625.8 L798 1625.8 L799 1625.8 L800 1625.8 L801 1625.8 L802 1625.9 L803 1625.9 L804 1625.9 L805 1625.9" stroke="#000" stroke-width="2.9" fill="none"/>
<path d="M540.9 1391.4h18.5M550.1 1380.4v22M565.9 1405.3h18.5M575.1 1394.3v22M589 1420.2h18.5M598.3 1409.2v22M612.2 1433.5h18.5M621.5 1422.5v22M636.4 1438.2h18.5M645.6 1427.2v22M659.5 1442.8h18.5M668.8 1431.8v22M688.4 1447.6h18.5M697.6 1436.6v22" stroke="#000" stroke-width="2.3" fill="none"/>
<line x1="359.8" y1="1344.2" x2="462.3" y2="1344.2" stroke="#000" stroke-width="1.7"/>
<line x1="410.8" y1="1352.7" x2="410.8" y2="1413.5" stroke="#000" stroke-width="1.9"/>
<path d="M410.8 1345.5 L405.3 1357.7 L410.8 1355.2 L416.3 1357.7 Z" fill="#000"/>
<path d="M410.8 1420.7 L405.3 1408.5 L410.8 1411 L416.3 1408.5 Z" fill="#000"/>
<text x="312" y="1402.5" font-family="'Liberation Sans', Arial, sans-serif" font-size="39.4">qΦ<tspan font-size="22.6" dy="13.5">B0</tspan></text>
<text x="835.5" y="1458.3" font-family="'Liberation Sans', Arial, sans-serif" font-size="39">E<tspan font-size="22.7" dy="12.5">C</tspan></text>
<text x="835.5" y="1638.3" font-family="'Liberation Sans', Arial, sans-serif" font-size="39">E<tspan font-size="22.7" dy="12.5">V</tspan></text>
<line x1="214.8" y1="605" x2="214.8" y2="1632" stroke="#000" stroke-width="3.5"/>
<path d="M214.8 1654 L203 1626.4 L214.8 1631.7 L226.6 1626.4 Z" fill="#000"/>
<text transform="translate(182.3 1224.6) rotate(-90)" font-family="'Liberation Sans', Arial, sans-serif" font-size="39">Increasing V<tspan font-size="22.6" dy="12.5">GS</tspan></text>
<text x="1128.2" y="31.8" font-family="'Liberation Sans', Arial, sans-serif" font-weight="bold" font-size="38.8">b</text>
<path d="M1414.4 408.5 L1414.8 406.2 L1415 404.5 L1415.3 402.5 L1415.6 400.6 L1415.8 398.6 L1416.1 396.6 L1416.4 394.6 L1416.7 392.6 L1417 390.6 L1417.2 388.6 L1417.5 386.6 L1417.8 384.6 L1418.1 382.7 L1418.4 380.7 L1418.7 378.7 L1418.9 376.7 L1419.2 374.7 L1419.5 372.7 L1419.8 370.7 L1420.2 368.8 L1420.7 366.8 L1421.2 364.9 L1421.7 362.9 L1422.3 361 L1422.8 359.1 L1423.3 357.1 L1423.9 355.2 L1424.4 353.3 L1424.9 351.3 L1425.5 349.4 L1426 347.5 L1426.6 345.5 L1427.2 343.6 L1427.9 341.8 L1428.6 339.9 L1429.4 338 L1430.1 336.2 L1430.9 334.3 L1431.6 332.4 L1432.4 330.6 L1433.1 328.7 L1433.9 326.8 L1434.6 325 L1435.3 323.1 L1436.1 321.2 L1436.8 319.4 L1437.6 317.5 L1438.3 315.6 L1439 313.7 L1439.6 311.9 L1440.3 310 L1441 308.1 L1441.6 306.2 L1442.3 304.3 L1443 302.4 L1443.7 300.5 L1444.3 298.6 L1445 296.7 L1445.7 294.8 L1446.4 292.9 L1447.2 291.1 L1448 289.3 L1448.8 287.4 L1449.6 285.6 L1450.5 283.8 L1451.3 281.9 L1452.1 280.1 L1452.9 278.3 L1453.8 276.5 L1454.6 274.6 L1455.4 272.8 L1456.3 271 L1457.1 269.1 L1457.9 267.3 L1458.8 265.5 L1459.6 263.7 L1460.4 261.8 L1461.2 260 L1462 258.1 L1462.7 256.3 L1463.5 254.4 L1464.2 252.5 L1464.9 250.7 L1465.7 248.8 L1466.4 246.9 L1467.1 245.1 L1467.9 243.2 L1468.6 241.3 L1469.4 239.5 L1470.2 237.6 L1471.1 235.8 L1471.9 234 L1472.8 232.2 L1473.6 230.4 L1474.5 228.6 L1475.4 226.7 L1476.2 224.9 L1477.1 223.1 L1478 221.3 L1478.9 219.5 L1479.8 217.7 L1480.7 216 L1481.6 214.2 L1482.6 212.4 L1483.5 210.6 L1484.4 208.8 L1485.3 207 L1486.3 205.3 L1487.2 203.5 L1488.2 201.7 L1489.1 200 L1490.1 198.2 L1491.1 196.4 L1492 194.7 L1493 192.9 L1494 191.2 L1495 189.5 L1496.1 187.8 L1497.3 186.2 L1498.5 184.5 L1499.7 182.9 L1500.9 181.3 L1502.1 179.7 L1503.2 178.1 L1504.3 176.4 L1505.4 174.7 L1506.4 173 L1507.4 171.2 L1508.5 169.5 L1509.5 167.8 L1510.6 166.1 L1511.7 164.5 L1513 163 L1514.4 161.6 L1515.9 160.2 L1517.4 158.9 L1518.9 157.6 L1520.5 156.3 L1522 155 L1523.6 153.7 L1525.2 152.5 L1526.8 151.4 L1528.4 150.2 L1530.1 149 L1531.7 147.9 L1533.4 146.7 L1535 145.6 L1536.7 144.5 L1538.4 143.4 L1540.1 142.3 L1541.8 141.3 L1543.5 140.2 L1545.2 139.2 L1546.9 138.2 L1548.7 137.1 L1550.4 136.1 L1552.1 135.1 L1553.9 134.1 L1555.6 133.2 L1557.4 132.2 L1559.2 131.2 L1560.9 130.2 L1562.7 129.3 L1564.5 128.4 L1566.3 127.5 L1568.1 126.8 L1570 126 L1571.9 125.3 L1573.8 124.7 L1575.6 124 L1577.5 123.3 L1579.4 122.6 L1581.3 121.9 L1583.2 121.2 L1585.1 120.5 L1586.9 119.8 L1588.8 119 L1590.7 118.3 L1592.6 117.6 L1594.5 116.9 L1596.3 116.2 L1598.2 115.5 L1600.1 114.8 L1602 114.2 L1603.9 113.5 L1605.8 112.9 L1607.7 112.3 L1609.6 111.7 L1611.6 111.1 L1613.5 110.5 L1615.4 109.9 L1617.3 109.3 L1619.2 108.7 L1621.1 108.1 L1623 107.5 L1625 106.9 L1626.9 106.3 L1628.8 105.6 L1630.7 105 L1632.6 104.4 L1634.5 103.8 L1636.4 103.2 L1638.3 102.6 L1640.3 102 L1642.2 101.5 L1644.2 101.1 L1646.1 100.6 L1648.1 100.2 L1650 99.7 L1652 99.3 L1654 98.8 L1655.9 98.4 L1657.9 97.9 L1659.8 97.5 L1661.8 97 L1663.7 96.6 L1665.7 96.1 L1667.7 95.7 L1669.6 95.2 L1671.6 94.8 L1673.5 94.3 L1675.5 93.9 L1677.5 93.5 L1679.4 93.1 L1681.4 92.8 L1683.4 92.4 L1685.3 92 L1687.3 91.6 L1689.3 91.2 L1691.3 90.8 L1693.2 90.5 L1695.2 90.1 L1697.2 89.7 L1699.1 89.3 L1701.1 88.9 L1703.1 88.5 L1705 88.2 L1706.7 87.8 L1709 87.4" stroke="#141414" stroke-width="2.7" fill="none" stroke-linejoin="round"/>
<path d="M1393.6 408.5 L1392.3 406.6 L1391.3 405.4 L1390.2 404.4 L1389.4 404.3 L1388.9 404.7 L1388.9 404.9 L1389.4 404.2 L1390.2 402.8 L1391.2 401.2 L1392.1 399.4 L1393 397.6 L1393.8 395.8 L1394.5 393.9 L1395.2 392 L1395.8 390.1 L1396.5 388.2 L1397.1 386.3 L1397.8 384.5 L1398.5 382.6 L1399.5 381 L1400.8 379.7 L1402.3 378.6 L1403.7 377.4 L1404.7 375.9 L1405.3 374.1 L1405.8 372.2 L1406.3 370.2 L1406.7 368.2 L1407.1 366.3 L1407.5 364.3 L1407.9 362.4 L1408.4 360.4 L1408.9 358.5 L1409.4 356.5 L1410.1 354.6 L1410.7 352.7 L1411.4 350.8 L1412 349 L1412.7 347.1 L1413.4 345.2 L1414 343.3 L1414.7 341.4 L1415.4 339.5 L1416 337.6 L1416.7 335.7 L1417.3 333.8 L1418 331.9 L1418.7 330 L1419.3 328.1 L1420 326.2 L1420.7 324.3 L1421.3 322.4 L1422 320.6 L1422.7 318.7 L1423.3 316.8 L1424 314.9 L1424.7 313 L1425.3 311.1 L1426 309.2 L1426.7 307.3 L1427.5 305.5 L1428.3 303.6 L1429.1 301.8 L1429.9 300 L1430.7 298.1 L1431.6 296.3 L1432.4 294.5 L1433.2 292.7 L1434 290.8 L1434.8 289 L1435.7 287.2 L1436.5 285.3 L1437.3 283.5 L1438.1 281.7 L1439 279.9 L1439.8 278 L1440.7 276.2 L1441.6 274.4 L1442.5 272.6 L1443.4 270.8 L1444.3 269 L1445.2 267.2 L1446.1 265.4 L1446.9 263.6 L1447.8 261.8 L1448.7 260 L1449.6 258.2 L1450.5 256.4 L1451.4 254.6 L1452.2 252.8 L1453.1 251 L1454 249.2 L1454.9 247.4 L1455.7 245.6 L1456.6 243.8 L1457.5 242 L1458.4 240.2 L1459.2 238.4 L1460.1 236.6 L1461 234.8 L1461.9 233 L1462.9 231.3 L1463.9 229.5 L1464.9 227.8 L1465.9 226 L1466.8 224.3 L1467.8 222.5 L1468.8 220.8 L1469.8 219 L1470.8 217.3 L1471.8 215.5 L1472.8 213.8 L1473.8 212.1 L1474.8 210.4 L1475.9 208.7 L1477 207 L1478.1 205.3 L1479.2 203.6 L1480.4 202 L1481.5 200.3 L1482.6 198.6 L1483.7 197 L1484.8 195.3 L1485.9 193.6 L1487 191.9 L1488 190.2 L1489 188.5 L1489.9 186.7 L1490.8 184.9 L1491.7 183.1 L1492.6 181.3 L1493.5 179.5 L1494.4 177.7 L1495.3 175.9 L1496.2 174.1 L1497.1 172.4 L1498.1 170.6 L1499.2 169 L1500.5 167.5 L1501.9 166 L1503.3 164.6 L1504.7 163.2 L1506.1 161.8 L1507.6 160.3 L1509 158.9 L1510.4 157.5 L1511.9 156.2 L1513.4 154.9 L1515 153.7 L1516.6 152.5 L1518.3 151.4 L1520 150.3 L1521.6 149.1 L1523.3 148 L1524.9 146.9 L1526.6 145.7 L1528.3 144.6 L1530 143.6 L1531.7 142.6 L1533.5 141.6 L1535.3 140.7 L1537.1 139.8 L1538.8 138.9 L1540.6 138.1 L1542.4 137.2 L1544.2 136.3 L1546 135.4 L1547.8 134.5 L1549.6 133.6 L1551.5 132.8 L1553.3 132 L1555.1 131.2 L1557 130.4 L1558.9 129.7 L1560.7 128.9 L1562.6 128.2 L1564.5 127.4 L1566.3 126.7 L1568.2 125.9 L1570 125.2 L1571.9 124.5 L1573.8 123.7 L1575.6 123 L1577.5 122.3 L1579.4 121.6 L1581.3 120.9 L1583.2 120.2 L1585 119.5 L1586.9 118.8 L1588.8 118.1 L1590.7 117.4 L1592.5 116.7 L1594.4 116 L1596.3 115.3 L1598.2 114.5 L1600.1 113.9 L1602 113.2 L1603.8 112.5 L1605.8 111.9 L1607.7 111.3 L1609.6 110.7 L1611.5 110.1 L1613.4 109.5 L1615.3 108.9 L1617.2 108.2 L1619.1 107.6 L1621 107 L1623 106.4 L1624.9 105.8 L1626.8 105.2 L1628.7 104.6 L1630.6 104 L1632.5 103.4 L1634.4 102.8 L1636.3 102.2 L1638.3 101.6 L1640.2 101 L1642.1 100.5 L1644.1 100.1 L1646 99.6 L1648 99.2 L1649.9 98.7 L1651.9 98.3 L1653.9 97.8 L1655.8 97.4 L1657.8 96.9 L1659.7 96.5 L1661.7 96 L1663.6 95.6 L1665.6 95.1 L1667.6 94.7 L1669.5 94.3 L1671.5 93.8 L1673.4 93.4 L1675.4 93 L1677.4 92.6 L1679.3 92.3 L1681.3 91.9 L1683.3 91.6 L1685.3 91.2 L1687.2 90.9 L1689.2 90.6 L1691.2 90.2 L1693.2 89.9 L1695.2 89.6 L1697.1 89.2 L1699.1 88.9 L1701.1 88.5 L1703.1 88.2 L1705 87.9 L1706.7 87.6 L1709 87.2" stroke="#2a3ec4" stroke-width="2.7" fill="none" stroke-linejoin="round"/>
<path d="M1367.1 408.5 L1367.5 406.2 L1367.8 404.5 L1368.1 402.6 L1368.4 400.6 L1368.8 398.6 L1369.1 396.6 L1369.4 394.7 L1369.7 392.7 L1370.1 390.7 L1370.4 388.7 L1370.7 386.7 L1371.1 384.8 L1371.5 382.8 L1372 380.9 L1372.6 379 L1373.2 377 L1373.8 375.1 L1374.4 373.2 L1375 371.3 L1375.6 369.4 L1376.2 367.5 L1376.8 365.6 L1377.4 363.6 L1378 361.7 L1378.7 359.9 L1379.4 358 L1380.2 356.1 L1380.9 354.3 L1381.7 352.4 L1382.5 350.6 L1383.2 348.7 L1384 346.9 L1384.8 345 L1385.5 343.2 L1386.3 341.3 L1387 339.4 L1387.8 337.6 L1388.6 335.7 L1389.3 333.9 L1390.1 332 L1390.9 330.2 L1391.6 328.3 L1392.4 326.5 L1393.2 324.6 L1393.9 322.8 L1394.7 320.9 L1395.4 319.1 L1396.2 317.2 L1397.1 315.4 L1398.1 313.7 L1399.2 312.1 L1400.6 310.7 L1402 309.2 L1403.4 307.8 L1404.7 306.3 L1405.9 304.8 L1407 303.1 L1407.9 301.3 L1408.8 299.5 L1409.6 297.7 L1410.5 295.9 L1411.4 294.1 L1412.2 292.3 L1413.1 290.4 L1413.9 288.6 L1414.8 286.8 L1415.7 285 L1416.5 283.2 L1417.4 281.4 L1418.3 279.6 L1419.1 277.8 L1420.1 276 L1421.1 274.3 L1422.1 272.6 L1423.2 270.9 L1424.2 269.2 L1425.3 267.5 L1426.3 265.7 L1427.4 264 L1428.5 262.3 L1429.5 260.6 L1430.6 259 L1431.7 257.3 L1432.8 255.6 L1433.9 253.9 L1435 252.3 L1436.1 250.6 L1437.2 248.9 L1438.4 247.3 L1439.5 245.6 L1440.6 243.9 L1441.7 242.2 L1442.8 240.6 L1443.9 238.9 L1445 237.2 L1446.1 235.6 L1447.2 233.9 L1448.3 232.2 L1449.4 230.5 L1450.6 228.9 L1451.6 227.2 L1452.7 225.5 L1453.7 223.7 L1454.6 222 L1455.5 220.2 L1456.4 218.4 L1457.4 216.6 L1458.3 214.8 L1459.2 213.1 L1460.2 211.3 L1461.2 209.6 L1462.3 207.9 L1463.4 206.3 L1464.5 204.6 L1465.7 202.9 L1466.8 201.3 L1467.9 199.6 L1469 197.9 L1470.1 196.3 L1471.2 194.6 L1472.3 192.9 L1473.4 191.2 L1474.5 189.5 L1475.5 187.8 L1476.5 186.1 L1477.5 184.3 L1478.5 182.6 L1479.5 180.8 L1480.5 179.1 L1481.5 177.4 L1482.5 175.6 L1483.5 173.9 L1484.4 172.1 L1485.4 170.4 L1486.4 168.7 L1487.5 167 L1488.7 165.4 L1490 163.9 L1491.4 162.4 L1492.8 161 L1494.2 159.6 L1495.6 158.2 L1497.1 156.7 L1498.5 155.3 L1499.9 153.9 L1501.4 152.6 L1502.9 151.3 L1504.5 150.1 L1506.2 149 L1507.8 147.9 L1509.5 146.8 L1511.2 145.6 L1512.8 144.5 L1514.5 143.4 L1516.2 142.3 L1517.9 141.2 L1519.5 140.1 L1521.2 139 L1522.9 138 L1524.7 137.1 L1526.5 136.2 L1528.3 135.4 L1530.2 134.6 L1532 133.8 L1533.9 133 L1535.7 132.2 L1537.5 131.4 L1539.4 130.6 L1541.2 129.8 L1543.1 129 L1544.9 128.3 L1546.8 127.7 L1548.8 127.1 L1550.7 126.5 L1552.6 126 L1554.5 125.4 L1556.4 124.8 L1558.4 124.2 L1560.3 123.7 L1562.2 123.1 L1564.1 122.5 L1566.1 121.9 L1568 121.4 L1569.9 120.8 L1571.8 120.2 L1573.7 119.7 L1575.7 119.1 L1577.6 118.6 L1579.5 118 L1581.4 117.4 L1583.4 116.9 L1585.3 116.3 L1587.2 115.7 L1589.1 115.2 L1591.1 114.6 L1593 114.1 L1594.9 113.5 L1596.8 112.9 L1598.8 112.4 L1600.7 111.8 L1602.6 111.2 L1604.5 110.6 L1606.4 110 L1608.4 109.4 L1610.3 108.8 L1612.2 108.3 L1614.1 107.7 L1616 107.1 L1617.9 106.5 L1619.9 105.9 L1621.8 105.3 L1623.7 104.7 L1625.6 104.1 L1627.5 103.5 L1629.4 102.9 L1631.4 102.4 L1633.3 101.8 L1635.2 101.2 L1637.1 100.6 L1639 100.1 L1641 99.6 L1642.9 99.1 L1644.9 98.7 L1646.9 98.3 L1648.8 97.9 L1650.8 97.5 L1652.8 97.1 L1654.7 96.7 L1656.7 96.3 L1658.6 95.9 L1660.6 95.5 L1662.6 95.1 L1664.5 94.7 L1666.5 94.2 L1668.5 93.8 L1670.4 93.4 L1672.4 93 L1674.4 92.7 L1676.3 92.3 L1678.3 92 L1680.3 91.6 L1682.3 91.3 L1684.3 91 L1686.2 90.7 L1688.2 90.4 L1690.2 90 L1692.2 89.7 L1694.2 89.4 L1696.1 89.1 L1698.1 88.8 L1700.1 88.4 L1702.1 88.1 L1704 87.8 L1705.9 87.5 L1707.5 87.2 L1709 87" stroke="#d040b8" stroke-width="2.7" fill="none" stroke-linejoin="round"/>
<path d="M1343.5 408.5 L1343 406.3 L1342.8 405 L1343 404.2 L1343.7 404.3 L1344.8 404.9 L1345.9 405.1 L1346.9 404.4 L1347.7 402.9 L1348.4 401.1 L1349 399.2 L1349.4 397.2 L1349.8 395.3 L1350.1 393.3 L1350.4 391.3 L1350.8 389.3 L1351.1 387.3 L1351.4 385.4 L1351.8 383.4 L1352.2 381.4 L1352.5 379.4 L1352.9 377.5 L1353.3 375.5 L1353.7 373.5 L1354.1 371.6 L1354.5 369.6 L1354.9 367.6 L1355.3 365.7 L1355.7 363.7 L1356.1 361.7 L1356.5 359.8 L1357 358 L1357.8 356.5 L1358.9 355.3 L1360.3 354.2 L1361.6 353 L1362.8 351.4 L1364 349.8 L1365.2 348.2 L1366.2 346.5 L1367.2 344.8 L1368 342.9 L1368.7 341.1 L1369.4 339.2 L1370.1 337.3 L1370.7 335.4 L1371.4 333.5 L1372.1 331.6 L1372.8 329.7 L1373.5 327.9 L1374.4 326.1 L1375.4 324.4 L1376.5 322.7 L1377.6 321.1 L1378.8 319.5 L1380 317.8 L1381.2 316.2 L1382.3 314.6 L1383.5 312.9 L1384.7 311.3 L1385.9 309.7 L1387 308.1 L1388.2 306.4 L1389.4 304.8 L1390.5 303.2 L1391.7 301.5 L1392.8 299.8 L1393.8 298.1 L1394.8 296.4 L1395.8 294.6 L1396.8 292.9 L1397.8 291.1 L1398.8 289.4 L1399.8 287.7 L1400.8 285.9 L1401.8 284.2 L1402.8 282.4 L1403.7 280.7 L1404.7 278.9 L1405.7 277.2 L1406.7 275.4 L1407.7 273.7 L1408.6 271.9 L1409.6 270.2 L1410.6 268.4 L1411.6 266.7 L1412.6 264.9 L1413.6 263.2 L1414.5 261.4 L1415.6 259.7 L1416.7 258 L1417.8 256.4 L1418.9 254.7 L1420 253.1 L1421.2 251.4 L1422.3 249.7 L1423.4 248.1 L1424.6 246.4 L1425.7 244.8 L1426.8 243.1 L1428 241.5 L1429.1 239.8 L1430.2 238.1 L1431.3 236.5 L1432.5 234.8 L1433.6 233.2 L1434.7 231.5 L1435.9 229.9 L1437 228.2 L1438.1 226.5 L1439.3 224.9 L1440.4 223.2 L1441.5 221.6 L1442.6 219.9 L1443.8 218.2 L1444.9 216.6 L1446 214.9 L1447.1 213.2 L1448.2 211.6 L1449.3 209.9 L1450.4 208.2 L1451.5 206.5 L1452.6 204.9 L1453.8 203.2 L1454.9 201.5 L1456 199.9 L1457.1 198.2 L1458.2 196.5 L1459.3 194.8 L1460.3 193.1 L1461.4 191.4 L1462.4 189.7 L1463.4 187.9 L1464.4 186.2 L1465.4 184.4 L1466.4 182.7 L1467.4 181 L1468.4 179.2 L1469.4 177.5 L1470.4 175.7 L1471.4 174 L1472.4 172.3 L1473.5 170.6 L1474.7 169 L1476 167.6 L1477.5 166.2 L1478.9 164.8 L1480.4 163.5 L1481.9 162.2 L1483.4 160.8 L1484.9 159.5 L1486.4 158.2 L1488 156.9 L1489.6 155.7 L1491.3 154.6 L1492.9 153.5 L1494.6 152.4 L1496.3 151.4 L1498 150.3 L1499.7 149.2 L1501.4 148.1 L1503.1 147.1 L1504.8 146 L1506.5 144.9 L1508.2 143.9 L1510 142.9 L1511.7 142 L1513.5 141.1 L1515.3 140.2 L1517.1 139.3 L1518.9 138.4 L1520.7 137.5 L1522.5 136.6 L1524.3 135.7 L1526.1 134.8 L1527.9 133.9 L1529.7 133.1 L1531.5 132.2 L1533.4 131.5 L1535.2 130.7 L1537.1 130 L1539 129.2 L1540.8 128.5 L1542.7 127.7 L1544.5 127 L1546.4 126.2 L1548.3 125.5 L1550.1 124.8 L1552 124.1 L1554 123.5 L1555.9 122.9 L1557.8 122.4 L1559.7 121.8 L1561.7 121.3 L1563.6 120.8 L1565.5 120.2 L1567.5 119.7 L1569.4 119.1 L1571.3 118.6 L1573.3 118 L1575.2 117.5 L1577.1 116.9 L1579.1 116.4 L1581 115.9 L1582.9 115.3 L1584.8 114.8 L1586.8 114.2 L1588.7 113.7 L1590.6 113.1 L1592.6 112.6 L1594.5 112 L1596.4 111.5 L1598.4 111 L1600.3 110.4 L1602.2 109.9 L1604.2 109.3 L1606.1 108.8 L1608 108.2 L1609.9 107.6 L1611.9 107.1 L1613.8 106.5 L1615.7 106 L1617.7 105.4 L1619.6 104.9 L1621.5 104.3 L1623.4 103.8 L1625.4 103.2 L1627.3 102.7 L1629.2 102.1 L1631.2 101.5 L1633.1 101 L1635 100.4 L1636.9 99.9 L1638.9 99.4 L1640.8 98.9 L1642.8 98.5 L1644.8 98.1 L1646.7 97.7 L1648.7 97.3 L1650.7 96.9 L1652.6 96.5 L1654.6 96.2 L1656.6 95.8 L1658.5 95.4 L1660.5 95 L1662.5 94.6 L1664.4 94.3 L1666.4 93.9 L1668.4 93.5 L1670.4 93.1 L1672.3 92.7 L1674.3 92.4 L1676.3 92 L1678.3 91.7 L1680.2 91.4 L1682.2 91.1 L1684.2 90.8 L1686.2 90.5 L1688.2 90.2 L1690.2 89.9 L1692.1 89.6 L1694.1 89.3 L1696.1 89 L1698.1 88.7 L1700.1 88.4 L1702.1 88.1 L1704 87.8 L1705.9 87.5 L1707.5 87.2 L1709 87" stroke="#7838c0" stroke-width="2.7" fill="none" stroke-linejoin="round"/>
<path d="M1329.6 408.5 L1330 406.2 L1330.2 404.5 L1330.6 402.6 L1330.9 400.6 L1331.3 398.6 L1331.6 396.6 L1331.9 394.7 L1332.3 392.7 L1332.6 390.7 L1332.9 388.7 L1333.3 386.8 L1333.6 384.8 L1334 382.8 L1334.3 380.8 L1334.6 378.8 L1335 376.9 L1335.3 374.9 L1335.7 372.9 L1336.1 371 L1336.7 369.4 L1337.8 368.4 L1339.4 367.9 L1341.2 367.5 L1342.7 366.9 L1343.9 365.7 L1344.7 364.1 L1345.4 362.2 L1346.1 360.3 L1346.8 358.4 L1347.5 356.6 L1348.1 354.7 L1348.8 352.8 L1349.5 350.9 L1350.2 349 L1350.9 347.1 L1351.7 345.3 L1352.4 343.4 L1353.2 341.6 L1354 339.7 L1354.7 337.9 L1355.5 336 L1356.2 334.1 L1357 332.3 L1357.8 330.4 L1358.5 328.6 L1359.3 326.7 L1360.1 324.9 L1361 323.1 L1362 321.3 L1362.9 319.6 L1363.9 317.8 L1364.8 316.1 L1365.8 314.3 L1366.8 312.5 L1367.7 310.8 L1368.7 309 L1369.6 307.2 L1370.6 305.5 L1371.6 303.7 L1372.5 302 L1373.5 300.2 L1374.5 298.4 L1375.5 296.7 L1376.6 295.1 L1377.9 293.6 L1379.3 292.3 L1380.8 291 L1382.1 289.5 L1383.3 287.9 L1384.4 286.3 L1385.6 284.7 L1386.7 283 L1387.9 281.4 L1389 279.7 L1390.2 278.1 L1391.3 276.4 L1392.4 274.7 L1393.5 273.1 L1394.5 271.3 L1395.5 269.6 L1396.5 267.8 L1397.4 266.1 L1398.4 264.3 L1399.4 262.5 L1400.3 260.8 L1401.3 259.1 L1402.4 257.4 L1403.4 255.6 L1404.5 253.9 L1405.6 252.2 L1406.6 250.5 L1407.7 248.8 L1408.7 247.1 L1409.8 245.4 L1410.9 243.7 L1411.9 242 L1413 240.3 L1414.1 238.6 L1415.1 236.9 L1416.2 235.2 L1417.3 233.5 L1418.3 231.8 L1419.4 230.1 L1420.4 228.4 L1421.5 226.7 L1422.6 225 L1423.6 223.3 L1424.7 221.6 L1425.8 219.9 L1426.8 218.2 L1427.9 216.5 L1428.9 214.8 L1430 213.1 L1431.1 211.4 L1432.3 209.8 L1433.5 208.3 L1434.9 206.8 L1436.2 205.3 L1437.6 203.8 L1439 202.4 L1440.3 200.9 L1441.7 199.4 L1443.1 198 L1444.4 196.5 L1445.8 195 L1447.2 193.6 L1448.5 192.1 L1449.9 190.6 L1451.3 189.2 L1452.6 187.7 L1454 186.2 L1455.4 184.8 L1456.7 183.3 L1458.1 181.8 L1459.4 180.3 L1460.8 178.8 L1462 177.3 L1463.3 175.7 L1464.5 174.1 L1465.8 172.6 L1467.1 171 L1468.3 169.4 L1469.6 167.9 L1470.8 166.3 L1472.1 164.7 L1473.4 163.2 L1474.8 161.8 L1476.2 160.4 L1477.7 159.1 L1479.2 157.8 L1480.8 156.5 L1482.3 155.2 L1483.8 153.9 L1485.4 152.6 L1486.9 151.3 L1488.5 150.2 L1490.2 149.1 L1492 148.1 L1493.8 147.2 L1495.5 146.3 L1497.3 145.3 L1499.1 144.4 L1500.8 143.4 L1502.6 142.5 L1504.4 141.6 L1506.2 140.6 L1507.9 139.7 L1509.7 138.8 L1511.5 137.9 L1513.3 137.1 L1515.2 136.2 L1517 135.4 L1518.8 134.5 L1520.6 133.6 L1522.4 132.8 L1524.2 131.9 L1526.1 131.1 L1527.9 130.3 L1529.7 129.5 L1531.6 128.7 L1533.5 128.1 L1535.4 127.4 L1537.3 126.8 L1539.2 126.2 L1541.1 125.5 L1543 124.9 L1544.9 124.3 L1546.8 123.6 L1548.7 123 L1550.6 122.4 L1552.5 121.8 L1554.5 121.3 L1556.4 120.7 L1558.3 120.2 L1560.3 119.6 L1562.2 119.1 L1564.1 118.5 L1566 118 L1568 117.5 L1569.9 116.9 L1571.8 116.4 L1573.8 115.8 L1575.7 115.3 L1577.6 114.8 L1579.6 114.2 L1581.5 113.7 L1583.4 113.1 L1585.4 112.6 L1587.3 112.1 L1589.2 111.5 L1591.2 111 L1593.1 110.4 L1595 109.9 L1597 109.4 L1598.9 108.8 L1600.8 108.3 L1602.8 107.8 L1604.7 107.3 L1606.7 106.8 L1608.6 106.4 L1610.6 105.9 L1612.5 105.4 L1614.5 104.9 L1616.4 104.4 L1618.4 104 L1620.3 103.5 L1622.2 103 L1624.2 102.5 L1626.1 102 L1628.1 101.5 L1630 101.1 L1632 100.6 L1633.9 100.1 L1635.9 99.6 L1637.8 99.2 L1639.8 98.7 L1641.7 98.3 L1643.7 97.9 L1645.7 97.5 L1647.7 97.2 L1649.6 96.8 L1651.6 96.4 L1653.6 96 L1655.5 95.7 L1657.5 95.3 L1659.5 94.9 L1661.5 94.6 L1663.4 94.2 L1665.4 93.8 L1667.4 93.4 L1669.3 93.1 L1671.3 92.7 L1673.3 92.3 L1675.3 92 L1677.2 91.7 L1679.2 91.4 L1681.2 91.1 L1683.2 90.8 L1685.2 90.5 L1687.2 90.2 L1689.2 89.9 L1691.1 89.6 L1693.1 89.3 L1695.1 89 L1697.1 88.8 L1699.1 88.5 L1701.1 88.2 L1703 87.9 L1705 87.6 L1706.7 87.3 L1709 87" stroke="#8a0c12" stroke-width="2.7" fill="none" stroke-linejoin="round"/>
<path d="M1307.3 408.5 L1307.6 406.2 L1307.8 404.5 L1308.1 402.5 L1308.4 400.6 L1308.6 398.6 L1308.9 396.6 L1309.2 394.6 L1309.4 392.6 L1309.7 390.6 L1310 388.6 L1310.2 386.6 L1310.5 384.7 L1310.8 382.7 L1311.1 380.7 L1311.4 378.7 L1311.8 376.7 L1312.2 374.8 L1312.7 372.9 L1313.3 370.9 L1313.8 369 L1314.3 367.1 L1314.8 365.1 L1315.4 363.2 L1315.9 361.2 L1316.4 359.3 L1316.9 357.4 L1317.3 355.4 L1317.8 353.5 L1318.3 351.5 L1318.8 349.6 L1319.3 347.6 L1319.8 345.7 L1320.3 343.7 L1320.8 341.8 L1321.5 340 L1322.3 338.1 L1323.2 336.4 L1324.2 334.6 L1325.1 332.8 L1326.1 331.1 L1327.1 329.3 L1328 327.5 L1328.8 325.7 L1329.6 323.9 L1330.4 322 L1331.1 320.2 L1331.9 318.3 L1332.7 316.5 L1333.4 314.6 L1334.2 312.8 L1335 310.9 L1335.7 309.1 L1336.5 307.2 L1337.3 305.4 L1338.3 303.6 L1339.4 302 L1340.5 300.4 L1341.7 298.8 L1343 297.2 L1344.2 295.6 L1345.4 294 L1346.6 292.4 L1347.9 290.8 L1349.1 289.2 L1350.3 287.6 L1351.5 286 L1352.6 284.4 L1353.8 282.7 L1354.9 281.1 L1356 279.4 L1357.1 277.7 L1358.2 276.1 L1359.3 274.4 L1360.4 272.7 L1361.6 271.1 L1362.7 269.4 L1363.8 267.7 L1365 266.1 L1366.2 264.5 L1367.5 263 L1368.9 261.6 L1370.2 260.1 L1371.4 258.5 L1372.5 256.9 L1373.5 255.1 L1374.4 253.4 L1375.4 251.6 L1376.3 249.8 L1377.3 248.1 L1378.3 246.3 L1379.3 244.6 L1380.5 243 L1381.8 241.6 L1383.3 240.2 L1384.8 238.9 L1386.3 237.6 L1387.8 236.3 L1389.4 235 L1390.9 233.7 L1392.4 232.4 L1393.9 231.1 L1395.5 229.8 L1397 228.5 L1398.5 227.2 L1399.9 225.8 L1401.3 224.3 L1402.5 222.8 L1403.6 221.1 L1404.7 219.5 L1405.8 217.8 L1407 216.1 L1408.1 214.4 L1409.2 212.8 L1410.3 211.2 L1411.6 209.6 L1412.9 208.1 L1414.3 206.6 L1415.7 205.2 L1417.1 203.8 L1418.5 202.4 L1419.9 201 L1421.4 199.5 L1422.8 198.1 L1424.2 196.7 L1425.6 195.3 L1427 193.9 L1428.4 192.5 L1429.9 191 L1431.3 189.6 L1432.7 188.2 L1434.2 186.8 L1435.6 185.5 L1437.1 184.1 L1438.6 182.7 L1440 181.4 L1441.5 180 L1443 178.6 L1444.4 177.2 L1445.9 175.9 L1447.3 174.5 L1448.8 173.1 L1450.3 171.8 L1451.8 170.5 L1453.3 169.2 L1454.9 167.9 L1456.4 166.6 L1457.9 165.3 L1459.5 164 L1461.1 162.8 L1462.7 161.7 L1464.4 160.6 L1466.1 159.5 L1467.7 158.4 L1469.4 157.3 L1471.1 156.1 L1472.8 155 L1474.4 153.9 L1476.1 152.8 L1477.8 151.7 L1479.5 150.6 L1481.2 149.6 L1482.9 148.6 L1484.7 147.6 L1486.4 146.7 L1488.2 145.7 L1490 144.8 L1491.7 143.9 L1493.5 142.9 L1495.3 142 L1497 141 L1498.8 140.1 L1500.6 139.2 L1502.4 138.3 L1504.2 137.5 L1506.1 136.7 L1507.9 136 L1509.8 135.2 L1511.7 134.5 L1513.5 133.7 L1515.4 133 L1517.2 132.2 L1519.1 131.5 L1521 130.8 L1522.8 130 L1524.7 129.4 L1526.6 128.7 L1528.5 128.1 L1530.4 127.4 L1532.3 126.8 L1534.2 126.2 L1536.1 125.5 L1538 124.9 L1539.9 124.3 L1541.9 123.7 L1543.8 123.1 L1545.7 122.5 L1547.6 122 L1549.6 121.4 L1551.5 120.9 L1553.4 120.4 L1555.4 119.9 L1557.3 119.4 L1559.2 118.9 L1561.2 118.4 L1563.1 117.8 L1565.1 117.3 L1567 116.8 L1568.9 116.3 L1570.9 115.8 L1572.8 115.3 L1574.7 114.8 L1576.7 114.2 L1578.6 113.7 L1580.5 113.2 L1582.5 112.6 L1584.4 112.1 L1586.3 111.5 L1588.3 110.9 L1590.2 110.4 L1592.1 109.8 L1594 109.2 L1596 108.7 L1597.9 108.1 L1599.8 107.6 L1601.7 107.1 L1603.7 106.6 L1605.6 106.1 L1607.6 105.6 L1609.5 105.1 L1611.5 104.6 L1613.4 104.1 L1615.4 103.6 L1617.3 103.1 L1619.2 102.6 L1621.2 102.2 L1623.1 101.7 L1625.1 101.2 L1627 100.7 L1629 100.2 L1630.9 99.7 L1632.8 99.2 L1634.8 98.7 L1636.7 98.2 L1638.7 97.8 L1640.6 97.3 L1642.6 97 L1644.6 96.6 L1646.6 96.3 L1648.5 96 L1650.5 95.6 L1652.5 95.3 L1654.5 95 L1656.5 94.6 L1658.4 94.3 L1660.4 94 L1662.4 93.6 L1664.4 93.3 L1666.3 93 L1668.3 92.6 L1670.3 92.3 L1672.3 92 L1674.2 91.6 L1676.2 91.3 L1678.2 91.1 L1680.2 90.8 L1682.2 90.5 L1684.2 90.2 L1686.2 90 L1688.1 89.7 L1690.1 89.4 L1692.1 89.1 L1694.1 88.9 L1696.1 88.6 L1698.1 88.3 L1700.1 88 L1702 87.8 L1704 87.5 L1705.9 87.2 L1707.5 87 L1709 86.8" stroke="#3a86c4" stroke-width="2.7" fill="none" stroke-linejoin="round"/>
<path d="M1266.3 408.5 L1266.7 406.3 L1267 404.5 L1267.3 402.6 L1267.7 400.6 L1268.2 398.7 L1268.8 396.8 L1269.6 395 L1270.6 393.3 L1271.5 391.5 L1272.4 389.7 L1273.1 387.9 L1273.7 386 L1274.3 384 L1274.9 382.1 L1275.5 380.2 L1276 378.3 L1276.6 376.4 L1277.2 374.5 L1277.9 372.6 L1278.5 370.7 L1279.1 368.8 L1279.8 366.9 L1280.5 365 L1281.3 363.2 L1282.2 361.4 L1283.1 359.6 L1284.1 357.9 L1285.1 356.1 L1286.1 354.4 L1287.1 352.7 L1288.1 350.9 L1289.1 349.2 L1290.1 347.4 L1291.1 345.7 L1292.2 344 L1293.3 342.3 L1294.4 340.7 L1295.6 339.1 L1296.8 337.4 L1297.9 335.8 L1299.1 334.2 L1300.2 332.5 L1301.4 330.9 L1302.6 329.3 L1303.7 327.6 L1304.8 326 L1305.7 324.2 L1306.5 322.4 L1307.1 320.5 L1307.6 318.6 L1308.2 316.6 L1308.7 314.7 L1309.3 312.8 L1309.8 310.9 L1310.4 308.9 L1310.9 307 L1311.5 305.1 L1312 303.1 L1312.6 301.2 L1313.2 299.3 L1313.8 297.4 L1314.7 295.7 L1315.8 294.1 L1317.1 292.6 L1318.5 291.2 L1319.9 289.8 L1321.3 288.3 L1322.7 286.9 L1324 285.4 L1325.2 283.8 L1326.1 282.1 L1326.9 280.3 L1327.6 278.4 L1328.3 276.5 L1329.1 274.7 L1330.1 273 L1331.2 271.3 L1332.4 269.8 L1333.7 268.2 L1335 266.7 L1336.2 265.1 L1337.5 263.6 L1338.8 262 L1340.1 260.5 L1341.4 259 L1342.7 257.4 L1344 255.9 L1345.3 254.4 L1346.6 252.9 L1347.9 251.4 L1349.3 249.9 L1350.6 248.4 L1351.9 246.9 L1353.3 245.4 L1354.6 243.9 L1355.8 242.3 L1357.1 240.8 L1358.4 239.2 L1359.6 237.7 L1360.9 236.1 L1362.1 234.5 L1363.4 233 L1364.7 231.5 L1366.1 230.1 L1367.7 229 L1369.4 227.9 L1371.2 226.9 L1372.9 225.9 L1374.6 224.9 L1376.4 223.9 L1378.1 222.9 L1379.7 221.7 L1381.2 220.4 L1382.5 219 L1383.9 217.5 L1385.2 216 L1386.5 214.4 L1387.8 212.9 L1389.1 211.4 L1390.4 209.9 L1391.8 208.4 L1393.1 206.9 L1394.4 205.4 L1395.7 203.9 L1397 202.4 L1398.3 200.8 L1399.7 199.3 L1401 197.9 L1402.4 196.4 L1403.8 195 L1405.2 193.6 L1406.6 192.2 L1408.1 190.7 L1409.5 189.3 L1410.9 187.9 L1412.3 186.5 L1413.7 185.1 L1415.2 183.6 L1416.6 182.2 L1418 180.8 L1419.4 179.4 L1420.8 178 L1422.2 176.6 L1423.7 175.1 L1425.1 173.7 L1426.5 172.4 L1428 171.1 L1429.6 169.9 L1431.3 168.7 L1433 167.7 L1434.7 166.6 L1436.4 165.5 L1438.1 164.5 L1439.8 163.4 L1441.5 162.3 L1443.2 161.3 L1444.9 160.2 L1446.6 159.1 L1448.3 158.1 L1450 157 L1451.7 156 L1453.4 155 L1455.2 154 L1456.9 153.1 L1458.7 152.2 L1460.5 151.2 L1462.3 150.3 L1464.1 149.4 L1465.8 148.5 L1467.6 147.5 L1469.4 146.6 L1471.2 145.7 L1472.9 144.8 L1474.7 143.8 L1476.5 142.9 L1478.3 142 L1480.1 141.1 L1481.9 140.2 L1483.7 139.4 L1485.5 138.6 L1487.4 137.8 L1489.2 137 L1491.1 136.2 L1492.9 135.4 L1494.7 134.6 L1496.6 133.8 L1498.4 133 L1500.3 132.3 L1502.2 131.6 L1504.1 130.9 L1506 130.4 L1507.9 129.8 L1509.8 129.3 L1511.8 128.7 L1513.7 128.2 L1515.6 127.6 L1517.6 127.1 L1519.5 126.6 L1521.4 126 L1523.3 125.5 L1525.3 124.9 L1527.2 124.3 L1529.1 123.8 L1531 123.2 L1532.9 122.6 L1534.9 122 L1536.8 121.5 L1538.7 120.9 L1540.6 120.3 L1542.5 119.6 L1544.4 119 L1546.3 118.3 L1548.2 117.6 L1550.1 117 L1552 116.3 L1553.9 115.6 L1555.8 115 L1557.6 114.3 L1559.5 113.7 L1561.5 113.1 L1563.4 112.5 L1565.3 111.9 L1567.2 111.4 L1569.1 110.8 L1571.1 110.3 L1573 109.7 L1574.9 109.1 L1576.8 108.6 L1578.8 108 L1580.7 107.4 L1582.6 106.8 L1584.5 106.1 L1586.4 105.5 L1588.3 104.9 L1590.2 104.3 L1592.1 103.6 L1594 103 L1595.9 102.4 L1597.8 101.8 L1599.7 101.2 L1601.7 100.6 L1603.6 100.1 L1605.5 99.7 L1607.5 99.3 L1609.5 98.9 L1611.4 98.5 L1613.4 98.1 L1615.4 97.7 L1617.3 97.3 L1619.3 96.9 L1621.3 96.5 L1623.2 96.2 L1625.2 95.8 L1627.2 95.5 L1629.2 95.3 L1631.2 95 L1633.2 94.8 L1635.2 94.6 L1637.1 94.3 L1639.1 94.1 L1641.1 93.9 L1643.1 93.7 L1645.1 93.5 L1647.1 93.3 L1649.1 93.1 L1651.1 93 L1653.1 92.8 L1655.1 92.6 L1657.1 92.4 L1659.1 92.2 L1661.1 92 L1663.1 91.8 L1665.1 91.6 L1667.1 91.4 L1669.1 91.3 L1671.1 91.1 L1673.1 90.9 L1675.1 90.7 L1677.1 90.5 L1679.1 90.3 L1681.1 90.1 L1683 90 L1685 89.8 L1687 89.6 L1689 89.4 L1691 89.2 L1693 89.1 L1695 88.9 L1697 88.7 L1699 88.5 L1701 88.3 L1703 88.1 L1705 88 L1706.7 87.8 L1709 87.6" stroke="#b08a3c" stroke-width="2.7" fill="none" stroke-linejoin="round"/>
<path d="M1287.8 408.5 L1288.4 406.3 L1288.9 404.6 L1289.4 402.7 L1289.9 400.8 L1290.5 398.8 L1291 396.9 L1291.5 395 L1292.1 393 L1292.6 391.1 L1293.1 389.2 L1293.6 387.2 L1294.2 385.3 L1294.7 383.4 L1295.3 381.4 L1295.8 379.5 L1296.4 377.6 L1297 375.7 L1297.5 373.7 L1298.1 371.8 L1298.7 369.9 L1299.2 368 L1299.8 366 L1300.4 364.1 L1300.9 362.2 L1301.6 360.3 L1302.2 358.4 L1303 356.6 L1303.8 354.7 L1304.6 352.9 L1305.4 351.1 L1306.3 349.2 L1307.1 347.4 L1307.9 345.6 L1308.7 343.7 L1309.5 341.9 L1310.3 340.1 L1311.1 338.2 L1312 336.4 L1312.8 334.6 L1313.6 332.7 L1314.4 330.9 L1315.3 329.1 L1316.1 327.3 L1317 325.5 L1317.8 323.6 L1318.7 321.8 L1319.5 320 L1320.3 318.2 L1321.2 316.4 L1322.1 314.6 L1323 312.8 L1323.9 311 L1324.8 309.2 L1325.7 307.4 L1326.6 305.6 L1327.4 303.8 L1328.3 302 L1329.3 300.2 L1330.2 298.4 L1331.1 296.7 L1332 294.9 L1333 293.1 L1333.9 291.3 L1334.8 289.6 L1335.8 287.8 L1336.7 286 L1337.6 284.2 L1338.6 282.5 L1339.5 280.7 L1340.4 278.9 L1341.4 277.1 L1342.3 275.4 L1343.1 273.5 L1343.9 271.7 L1344.7 269.8 L1345.4 268 L1346 266.1 L1346.7 264.2 L1347.4 262.3 L1348.1 260.4 L1349 258.6 L1350 256.9 L1351.1 255.3 L1352.3 253.7 L1353.6 252.2 L1354.8 250.6 L1356.1 249 L1357.3 247.5 L1358.6 245.9 L1359.8 244.3 L1361.1 242.8 L1362.4 241.2 L1363.6 239.6 L1364.9 238.1 L1366.1 236.5 L1367.4 234.9 L1368.6 233.4 L1369.9 231.8 L1371.1 230.2 L1372.3 228.6 L1373.5 227 L1374.6 225.4 L1375.8 223.7 L1377 222.1 L1378.2 220.5 L1379.4 218.9 L1380.6 217.3 L1381.9 215.8 L1383.2 214.2 L1384.5 212.7 L1385.8 211.2 L1387.1 209.7 L1388.5 208.2 L1389.8 206.7 L1391.1 205.2 L1392.4 203.6 L1393.7 202.1 L1395 200.6 L1396.4 199.1 L1397.7 197.6 L1399 196.1 L1400.3 194.6 L1401.7 193.1 L1403.1 191.7 L1404.5 190.3 L1405.9 188.9 L1407.4 187.4 L1408.8 186 L1410.2 184.6 L1411.6 183.2 L1413 181.8 L1414.4 180.4 L1415.9 178.9 L1417.3 177.5 L1418.7 176.1 L1420.1 174.7 L1421.5 173.3 L1423 171.8 L1424.4 170.4 L1425.8 169 L1427.3 167.7 L1428.8 166.4 L1430.5 165.3 L1432.2 164.2 L1433.8 163.1 L1435.5 162.1 L1437.2 161 L1438.9 159.9 L1440.6 158.9 L1442.3 157.8 L1444 156.7 L1445.7 155.7 L1447.4 154.6 L1449.1 153.5 L1450.8 152.5 L1452.6 151.5 L1454.3 150.5 L1456.1 149.5 L1457.9 148.6 L1459.6 147.7 L1461.4 146.8 L1463.2 145.8 L1465 144.9 L1466.8 144 L1468.5 143.1 L1470.3 142.1 L1472.1 141.2 L1473.9 140.3 L1475.6 139.3 L1477.4 138.4 L1479.2 137.5 L1481 136.7 L1482.9 135.9 L1484.7 135.1 L1486.6 134.4 L1488.5 133.7 L1490.3 133 L1492.2 132.2 L1494.1 131.5 L1495.9 130.8 L1497.8 130.1 L1499.7 129.4 L1501.6 128.7 L1503.5 128.1 L1505.4 127.5 L1507.3 127 L1509.3 126.4 L1511.2 125.9 L1513.1 125.3 L1515.1 124.8 L1517 124.3 L1518.9 123.7 L1520.9 123.2 L1522.8 122.6 L1524.7 122.1 L1526.6 121.5 L1528.6 120.9 L1530.5 120.4 L1532.4 119.8 L1534.3 119.2 L1536.2 118.6 L1538.2 118 L1540.1 117.4 L1542 116.8 L1543.9 116.1 L1545.8 115.5 L1547.7 114.8 L1549.5 114.2 L1551.4 113.5 L1553.3 112.8 L1555.2 112.2 L1557.1 111.5 L1559 110.9 L1560.9 110.3 L1562.8 109.7 L1564.8 109.1 L1566.7 108.5 L1568.6 108 L1570.5 107.4 L1572.5 106.8 L1574.4 106.3 L1576.3 105.7 L1578.2 105.2 L1580.2 104.7 L1582.1 104.1 L1584.1 103.7 L1586 103.2 L1588 102.7 L1589.9 102.2 L1591.8 101.7 L1593.8 101.2 L1595.7 100.7 L1597.7 100.3 L1599.6 99.8 L1601.6 99.3 L1603.5 98.9 L1605.5 98.5 L1607.5 98.1 L1609.4 97.7 L1611.4 97.3 L1613.4 96.9 L1615.3 96.5 L1617.3 96.1 L1619.3 95.7 L1621.2 95.3 L1623.2 95 L1625.2 94.6 L1627.2 94.3 L1629.2 94.1 L1631.1 93.8 L1633.1 93.6 L1635.1 93.4 L1637.1 93.1 L1639.1 92.9 L1641.1 92.7 L1643.1 92.5 L1645.1 92.3 L1647.1 92.1 L1649.1 91.9 L1651.1 91.8 L1653.1 91.6 L1655.1 91.4 L1657.1 91.2 L1659.1 91 L1661.1 90.8 L1663.1 90.6 L1665.1 90.4 L1667.1 90.2 L1669.1 90.1 L1671.1 89.9 L1673.1 89.7 L1675 89.5 L1677 89.3 L1679 89.1 L1681 88.9 L1683 88.8 L1685 88.6 L1687 88.4 L1689 88.2 L1691 88 L1693 87.9 L1695 87.7 L1697 87.5 L1699 87.3 L1701 87.1 L1703 86.9 L1705 86.8 L1706.7 86.6 L1709 86.4" stroke="#d42a6c" stroke-width="2.7" fill="none" stroke-linejoin="round"/>
<rect x="1257.8" y="46.6" width="452.4" height="362" fill="none" stroke="#1a1a1a" stroke-width="2.6"/>
<path d="M1257.8 46.6h8M1257.8 88.8h5M1257.8 78.1h5M1257.8 70.6h5M1257.8 64.8h5M1257.8 60h5M1257.8 55.9h5M1257.8 52.4h5M1257.8 49.4h5M1257.8 106.9h8M1257.8 149.1h5M1257.8 138.5h5M1257.8 130.9h5M1257.8 125.1h5M1257.8 120.3h5M1257.8 116.3h5M1257.8 112.8h5M1257.8 109.7h5M1257.8 167.3h8M1257.8 209.4h5M1257.8 198.8h5M1257.8 191.3h5M1257.8 185.4h5M1257.8 180.7h5M1257.8 176.6h5M1257.8 173.1h5M1257.8 170h5M1257.8 227.6h8M1257.8 269.8h5M1257.8 259.1h5M1257.8 251.6h5M1257.8 245.8h5M1257.8 241h5M1257.8 236.9h5M1257.8 233.4h5M1257.8 230.4h5M1257.8 287.9h8M1257.8 330.1h5M1257.8 319.5h5M1257.8 311.9h5M1257.8 306.1h5M1257.8 301.3h5M1257.8 297.3h5M1257.8 293.8h5M1257.8 290.7h5M1257.8 348.3h8M1257.8 390.4h5M1257.8 379.8h5M1257.8 372.3h5M1257.8 366.4h5M1257.8 361.7h5M1257.8 357.6h5M1257.8 354.1h5M1257.8 351h5M1257.8 408.6h8M1257.8 408.6v-5M1314.3 408.6v-4M1370.9 408.6v-5M1427.5 408.6v-4M1484 408.6v-5M1540.5 408.6v-4M1597.1 408.6v-5M1653.7 408.6v-4M1710.2 408.6v-5" stroke="#1a1a1a" stroke-width="2.2" fill="none"/>
<text x="1195.8" y="60.9" font-family="'Liberation Sans', Arial, sans-serif" font-size="28.5">10<tspan font-size="16.5" dy="-10">-4</tspan></text>
<text x="1195.8" y="121.2" font-family="'Liberation Sans', Arial, sans-serif" font-size="28.5">10<tspan font-size="16.5" dy="-10">-5</tspan></text>
<text x="1195.8" y="181.6" font-family="'Liberation Sans', Arial, sans-serif" font-size="28.5">10<tspan font-size="16.5" dy="-10">-6</tspan></text>
<text x="1195.8" y="241.9" font-family="'Liberation Sans', Arial, sans-serif" font-size="28.5">10<tspan font-size="16.5" dy="-10">-7</tspan></text>
<text x="1195.8" y="302.2" font-family="'Liberation Sans', Arial, sans-serif" font-size="28.5">10<tspan font-size="16.5" dy="-10">-8</tspan></text>
<text x="1195.8" y="362.6" font-family="'Liberation Sans', Arial, sans-serif" font-size="28.5">10<tspan font-size="16.5" dy="-10">-9</tspan></text>
<text x="1195.8" y="422.9" font-family="'Liberation Sans', Arial, sans-serif" font-size="28.5">10<tspan font-size="16.5" dy="-10">-10</tspan></text>
<text x="1231.6" y="442.5" font-family="'Liberation Sans', Arial, sans-serif" font-size="29.5">-10</text>
<text x="1359" y="442.5" font-family="'Liberation Sans', Arial, sans-serif" font-size="29.5">-5</text>
<text x="1476" y="442.5" font-family="'Liberation Sans', Arial, sans-serif" font-size="29.5">0</text>
<text x="1586.5" y="442.5" font-family="'Liberation Sans', Arial, sans-serif" font-size="29.5">5</text>
<text x="1690.5" y="442.5" font-family="'Liberation Sans', Arial, sans-serif" font-size="29.5">10</text>
<text x="1424.6" y="487.8" font-family="'Liberation Sans', Arial, sans-serif" font-size="40.3">V<tspan font-size="22.8" dy="12.1">GS</tspan><tspan dy="-12.1"> (V)</tspan></text>
<text transform="translate(1173.2 289.8) rotate(-90)" font-family="'Liberation Sans', Arial, sans-serif" font-size="39.5">I<tspan font-size="22.6" dy="12.6">D</tspan><tspan dy="-12.6"> (A)</tspan></text>
<line x1="1273.8" y1="64.7" x2="1315.5" y2="64.7" stroke="#555555" stroke-width="3"/>
<text x="1318.6" y="70.7" font-family="'Liberation Sans', Arial, sans-serif" font-size="18.2" fill="#3a3a3a" style="stroke:#3a3a3a;stroke-width:0.2px">100 K</text>
<line x1="1273.8" y1="86.6" x2="1315.5" y2="86.6" stroke="#3c3f8c" stroke-width="3"/>
<text x="1318.6" y="92.6" font-family="'Liberation Sans', Arial, sans-serif" font-size="18.2" fill="#3a3a3a" style="stroke:#3a3a3a;stroke-width:0.2px">120 K</text>
<line x1="1273.8" y1="108.5" x2="1315.5" y2="108.5" stroke="#a0508f" stroke-width="3"/>
<text x="1318.6" y="114.5" font-family="'Liberation Sans', Arial, sans-serif" font-size="18.2" fill="#3a3a3a" style="stroke:#3a3a3a;stroke-width:0.2px">140 K</text>
<line x1="1273.8" y1="130.4" x2="1315.5" y2="130.4" stroke="#5a3a92" stroke-width="3"/>
<text x="1318.6" y="136.4" font-family="'Liberation Sans', Arial, sans-serif" font-size="18.2" fill="#3a3a3a" style="stroke:#3a3a3a;stroke-width:0.2px">160 K</text>
<line x1="1273.8" y1="152.3" x2="1315.5" y2="152.3" stroke="#6a0c14" stroke-width="3"/>
<text x="1318.6" y="158.3" font-family="'Liberation Sans', Arial, sans-serif" font-size="18.2" fill="#3a3a3a" style="stroke:#3a3a3a;stroke-width:0.2px">180 K</text>
<line x1="1273.8" y1="174.2" x2="1315.5" y2="174.2" stroke="#5a7ab0" stroke-width="3"/>
<text x="1318.6" y="180.2" font-family="'Liberation Sans', Arial, sans-serif" font-size="18.2" fill="#3a3a3a" style="stroke:#3a3a3a;stroke-width:0.2px">200 K</text>
<line x1="1273.8" y1="196.1" x2="1315.5" y2="196.1" stroke="#80702e" stroke-width="3"/>
<text x="1318.6" y="202.1" font-family="'Liberation Sans', Arial, sans-serif" font-size="18.2" fill="#3a3a3a" style="stroke:#3a3a3a;stroke-width:0.2px">220 K</text>
<line x1="1273.8" y1="218" x2="1315.5" y2="218" stroke="#c07090" stroke-width="3"/>
<text x="1318.6" y="224" font-family="'Liberation Sans', Arial, sans-serif" font-size="18.2" fill="#3a3a3a" style="stroke:#3a3a3a;stroke-width:0.2px">240 K</text>
<text x="1392.4" y="84" font-family="'Liberation Sans', Arial, sans-serif" font-size="32.9">with 1L BN</text>
<g font-family="'Liberation Serif', 'Times New Roman', serif" fill="#262626" stroke="#262626" stroke-width="0.45">
<text x="1453.3" y="306.6" font-size="28.5" font-style="italic" textLength="29.5" lengthAdjust="spacingAndGlyphs">SS</text>
<text x="1489.8" y="306.6" font-size="30" textLength="20.6" lengthAdjust="spacingAndGlyphs">=</text>
<text x="1515.5" y="306.6" font-size="28.5" font-style="italic" textLength="16.5" lengthAdjust="spacingAndGlyphs">γ</text>
<text x="1533.6" y="296.3" font-size="20" textLength="12" lengthAdjust="spacingAndGlyphs">−</text>
<text x="1547.2" y="296.3" font-size="16.5" textLength="9.5" lengthAdjust="spacingAndGlyphs">1</text>
<text x="1563.4" y="306.6" font-size="28" textLength="72.5" lengthAdjust="spacingAndGlyphs">ln(10)</text>
<text x="1639.8" y="306.6" font-size="28.5" font-style="italic" textLength="59.5" lengthAdjust="spacingAndGlyphs">kT/q</text>
<text x="1463.8" y="371.7" font-size="28.5" font-style="italic" textLength="16.5" lengthAdjust="spacingAndGlyphs">γ</text>
<text x="1487.4" y="371.7" font-size="30" textLength="20.4" lengthAdjust="spacingAndGlyphs">=</text>
<text x="1514.6" y="371.7" font-size="26.6" textLength="63.5" lengthAdjust="spacingAndGlyphs">0.018</text>
<text x="1585.5" y="371.7" font-size="26.6" textLength="17.5" lengthAdjust="spacingAndGlyphs">−</text>
<text x="1610.6" y="371.7" font-size="26.6" textLength="63.5" lengthAdjust="spacingAndGlyphs">0.024</text>
</g>
<text x="1128.5" y="555" font-family="'Liberation Sans', Arial, sans-serif" font-weight="bold" font-size="40">c</text>
<line x1="1295.4" y1="627" x2="1650.3" y2="619.3" stroke="#5cc6dc" stroke-width="3.1"/>
<circle cx="1295.4" cy="627" r="4.6" fill="#5cc6dc"/>
<circle cx="1308.4" cy="624.5" r="4.6" fill="#5cc6dc"/>
<circle cx="1319.9" cy="624.5" r="4.6" fill="#5cc6dc"/>
<circle cx="1332.9" cy="628.7" r="4.6" fill="#5cc6dc"/>
<circle cx="1332.9" cy="633.7" r="4.4" fill="#5cc6dc"/>
<circle cx="1347.3" cy="627" r="4.6" fill="#5cc6dc"/>
<circle cx="1347.3" cy="632" r="4.4" fill="#5cc6dc"/>
<circle cx="1362.7" cy="624.2" r="4.6" fill="#5cc6dc"/>
<circle cx="1362.7" cy="629.2" r="4.4" fill="#5cc6dc"/>
<circle cx="1380.3" cy="622.4" r="4.6" fill="#5cc6dc"/>
<circle cx="1400.6" cy="621.7" r="4.6" fill="#5cc6dc"/>
<circle cx="1422.4" cy="622.8" r="4.6" fill="#5cc6dc"/>
<circle cx="1448" cy="621.7" r="4.6" fill="#5cc6dc"/>
<circle cx="1477.1" cy="620.7" r="4.6" fill="#5cc6dc"/>
<circle cx="1510" cy="616.5" r="4.6" fill="#5cc6dc"/>
<circle cx="1548.6" cy="620.7" r="4.6" fill="#5cc6dc"/>
<circle cx="1595.3" cy="619.3" r="4.6" fill="#5cc6dc"/>
<circle cx="1650.3" cy="619.3" r="4.6" fill="#5cc6dc"/>
<line x1="1295.4" y1="644.5" x2="1650.3" y2="665.6" stroke="#2c3eb0" stroke-width="3.1"/>
<circle cx="1295.4" cy="644.5" r="4.6" fill="#2c3eb0"/>
<circle cx="1308.4" cy="639.3" r="4.6" fill="#2c3eb0"/>
<circle cx="1319.9" cy="642.1" r="4.6" fill="#2c3eb0"/>
<circle cx="1332.9" cy="649.8" r="4.6" fill="#2c3eb0"/>
<circle cx="1347.3" cy="649.1" r="4.6" fill="#2c3eb0"/>
<circle cx="1362.7" cy="648" r="4.6" fill="#2c3eb0"/>
<circle cx="1380.3" cy="648.7" r="4.6" fill="#2c3eb0"/>
<circle cx="1400.6" cy="648" r="4.6" fill="#2c3eb0"/>
<circle cx="1422.4" cy="650.5" r="4.6" fill="#2c3eb0"/>
<circle cx="1448" cy="652.2" r="4.6" fill="#2c3eb0"/>
<circle cx="1477.1" cy="652.2" r="4.6" fill="#2c3eb0"/>
<circle cx="1510" cy="649.8" r="4.6" fill="#2c3eb0"/>
<circle cx="1548.6" cy="660.3" r="4.6" fill="#2c3eb0"/>
<circle cx="1595.3" cy="657.8" r="4.6" fill="#2c3eb0"/>
<circle cx="1650.3" cy="665.6" r="4.6" fill="#2c3eb0"/>
<line x1="1295.4" y1="663.1" x2="1650.3" y2="742.7" stroke="#58b848" stroke-width="3.1"/>
<circle cx="1295.4" cy="663.1" r="4.6" fill="#58b848"/>
<circle cx="1308.4" cy="657.8" r="4.6" fill="#58b848"/>
<circle cx="1319.9" cy="663.1" r="4.6" fill="#58b848"/>
<circle cx="1332.9" cy="672.6" r="4.6" fill="#58b848"/>
<circle cx="1347.3" cy="673.3" r="4.6" fill="#58b848"/>
<circle cx="1362.7" cy="676.8" r="4.6" fill="#58b848"/>
<circle cx="1380.3" cy="681.3" r="4.6" fill="#58b848"/>
<circle cx="1400.6" cy="683.1" r="4.6" fill="#58b848"/>
<circle cx="1422.4" cy="684.2" r="4.6" fill="#58b848"/>
<circle cx="1448" cy="696.1" r="4.6" fill="#58b848"/>
<circle cx="1477.1" cy="698.9" r="4.6" fill="#58b848"/>
<circle cx="1510" cy="697.1" r="4.6" fill="#58b848"/>
<circle cx="1548.6" cy="719.9" r="4.6" fill="#58b848"/>
<circle cx="1595.3" cy="728" r="4.6" fill="#58b848"/>
<circle cx="1650.3" cy="742.7" r="4.6" fill="#58b848"/>
<line x1="1295.4" y1="686.6" x2="1650.3" y2="844.4" stroke="#e82428" stroke-width="3.1"/>
<circle cx="1295.4" cy="686.6" r="4.6" fill="#e82428"/>
<circle cx="1308.4" cy="680.6" r="4.6" fill="#e82428"/>
<circle cx="1319.9" cy="689.1" r="4.6" fill="#e82428"/>
<circle cx="1332.9" cy="703.1" r="4.6" fill="#e82428"/>
<circle cx="1347.3" cy="701.3" r="4.6" fill="#e82428"/>
<circle cx="1362.7" cy="716.4" r="4.6" fill="#e82428"/>
<circle cx="1380.3" cy="726.2" r="4.6" fill="#e82428"/>
<circle cx="1400.6" cy="731.5" r="4.6" fill="#e82428"/>
<circle cx="1422.4" cy="743.4" r="4.6" fill="#e82428"/>
<circle cx="1448" cy="752.2" r="4.6" fill="#e82428"/>
<circle cx="1477.1" cy="764.5" r="4.6" fill="#e82428"/>
<circle cx="1510" cy="765.5" r="4.6" fill="#e82428"/>
<circle cx="1548.6" cy="806.6" r="4.6" fill="#e82428"/>
<circle cx="1595.3" cy="819.9" r="4.6" fill="#e82428"/>
<circle cx="1650.3" cy="844.4" r="4.6" fill="#e82428"/>
<line x1="1295.4" y1="713.6" x2="1650.3" y2="958.4" stroke="#111111" stroke-width="3.1"/>
<circle cx="1295.4" cy="714" r="4.6" fill="#111111"/>
<circle cx="1308.4" cy="706.6" r="4.6" fill="#111111"/>
<circle cx="1319.9" cy="718.5" r="4.6" fill="#111111"/>
<circle cx="1332.9" cy="740.3" r="4.6" fill="#111111"/>
<circle cx="1347.3" cy="743.4" r="4.6" fill="#111111"/>
<circle cx="1362.7" cy="762" r="4.6" fill="#111111"/>
<circle cx="1380.3" cy="782" r="4.6" fill="#111111"/>
<circle cx="1400.6" cy="790.1" r="4.6" fill="#111111"/>
<circle cx="1422.4" cy="805.2" r="4.6" fill="#111111"/>
<circle cx="1448" cy="820.6" r="4.6" fill="#111111"/>
<circle cx="1477.1" cy="839.9" r="4.6" fill="#111111"/>
<circle cx="1510" cy="843.4" r="4.6" fill="#111111"/>
<circle cx="1548.6" cy="896.4" r="4.6" fill="#111111"/>
<circle cx="1595.3" cy="928.6" r="4.6" fill="#111111"/>
<circle cx="1650.3" cy="952.1" r="4.6" fill="#111111"/>
<rect x="1256.8" y="568" width="454.2" height="414.3" fill="none" stroke="#1a1a1a" stroke-width="3"/>
<path d="M1256.8 982.3h5M1256.8 930.5h7M1256.8 878.7h5M1256.8 826.9h7M1256.8 775.1h5M1256.8 723.4h7M1256.8 671.6h5M1256.8 619.8h7M1256.8 568h5M1256.8 982.3v-5M1287.1 982.3v-7M1317.4 982.3v-5M1347.6 982.3v-7M1377.9 982.3v-5M1408.2 982.3v-7M1438.5 982.3v-5M1468.8 982.3v-7M1499 982.3v-5M1529.3 982.3v-7M1559.6 982.3v-5M1589.9 982.3v-7M1620.2 982.3v-5M1650.4 982.3v-7M1680.7 982.3v-5M1711 982.3v-7" stroke="#1a1a1a" stroke-width="2.2" fill="none"/>
<text x="1206.6" y="625" font-family="'Liberation Sans', Arial, sans-serif" font-size="29.8">-20</text>
<text x="1206.6" y="732.5" font-family="'Liberation Sans', Arial, sans-serif" font-size="29.8">-22</text>
<text x="1206.6" y="833" font-family="'Liberation Sans', Arial, sans-serif" font-size="29.8">-24</text>
<text x="1206.6" y="940.3" font-family="'Liberation Sans', Arial, sans-serif" font-size="29.8">-26</text>
<text x="1287.1" y="1014" text-anchor="middle" font-family="'Liberation Sans', Arial, sans-serif" font-size="29.8">4</text>
<text x="1347.6" y="1014" text-anchor="middle" font-family="'Liberation Sans', Arial, sans-serif" font-size="29.8">5</text>
<text x="1408.2" y="1014" text-anchor="middle" font-family="'Liberation Sans', Arial, sans-serif" font-size="29.8">6</text>
<text x="1468.8" y="1014" text-anchor="middle" font-family="'Liberation Sans', Arial, sans-serif" font-size="29.8">7</text>
<text x="1529.3" y="1014" text-anchor="middle" font-family="'Liberation Sans', Arial, sans-serif" font-size="29.8">8</text>
<text x="1589.9" y="1014" text-anchor="middle" font-family="'Liberation Sans', Arial, sans-serif" font-size="29.8">9</text>
<text x="1650.4" y="1014" text-anchor="middle" font-family="'Liberation Sans', Arial, sans-serif" font-size="29.8">10</text>
<text x="1711" y="1014" text-anchor="middle" font-family="'Liberation Sans', Arial, sans-serif" font-size="29.8">11</text>
<text x="1378" y="1062" font-family="'Liberation Sans', Arial, sans-serif" font-size="39">1000/T (1/K)</text>
<text transform="translate(1183.9 846) rotate(-90)" font-family="'Liberation Sans', Arial, sans-serif" font-size="39.5">ln(1/T<tspan font-size="22.5" dy="-13.3">1.5</tspan><tspan dy="13.3">)</tspan></text>
<text x="1650.3" y="593.6" font-family="'Liberation Sans', Arial, sans-serif" font-size="23">V<tspan font-size="12.8" dy="7.4">GS</tspan><tspan dx="1.5" dy="-7.4">=</tspan></text>
<text x="1660.3" y="624.9" font-family="'Liberation Sans', Arial, sans-serif" font-size="23">2 V</text>
<text x="1660.3" y="677.3" font-family="'Liberation Sans', Arial, sans-serif" font-size="23">1 V</text>
<text x="1660.6" y="752" font-family="'Liberation Sans', Arial, sans-serif" font-size="23">0 V</text>
<text x="1660.6" y="855.4" font-family="'Liberation Sans', Arial, sans-serif" font-size="23">-1 V</text>
<text x="1660.6" y="962.4" font-family="'Liberation Sans', Arial, sans-serif" font-size="23">-2 V</text>
<text x="1290.2" y="940.2" font-family="'Liberation Sans', Arial, sans-serif" font-size="32.9">with 1L BN</text>
<text x="1128.5" y="1146.5" font-family="'Liberation Sans', Arial, sans-serif" font-weight="bold" font-size="39.5">d</text>
<line x1="1260.3" y1="1162.2" x2="1626.2" y2="1602" stroke="#111" stroke-width="3.7" stroke-linecap="round" stroke-dasharray="0.4 7.1"/>
<rect x="1259.3" y="1159.7" width="7.6" height="7.6" fill="#e42028"/>
<rect x="1288.2" y="1191.7" width="7.6" height="7.6" fill="#e42028"/>
<rect x="1317.1" y="1229.9" width="7.6" height="7.6" fill="#e42028"/>
<rect x="1346" y="1266.4" width="7.6" height="7.6" fill="#e42028"/>
<rect x="1374.9" y="1302.3" width="7.6" height="7.6" fill="#e42028"/>
<rect x="1403.8" y="1337.1" width="7.6" height="7.6" fill="#e42028"/>
<rect x="1432.7" y="1375" width="7.6" height="7.6" fill="#e42028"/>
<rect x="1461.6" y="1409" width="7.6" height="7.6" fill="#e42028"/>
<rect x="1490.5" y="1440.3" width="7.6" height="7.6" fill="#e42028"/>
<rect x="1519.4" y="1470.6" width="7.6" height="7.6" fill="#e42028"/>
<rect x="1548.3" y="1500.8" width="7.6" height="7.6" fill="#e42028"/>
<rect x="1577.2" y="1524.2" width="7.6" height="7.6" fill="#e42028"/>
<rect x="1606.1" y="1548.1" width="7.6" height="7.6" fill="#e42028"/>
<rect x="1635" y="1567.5" width="7.6" height="7.6" fill="#e42028"/>
<rect x="1663.9" y="1584.6" width="7.6" height="7.6" fill="#e42028"/>
<rect x="1692.8" y="1593.8" width="7.6" height="7.6" fill="#e42028"/>
<line x1="1271" y1="1507.4" x2="1552" y2="1507.4" stroke="#111" stroke-width="3"/>
<path d="M1259 1507.4 L1274.5 1501.2 L1272.5 1507.4 L1274.5 1513.6 Z" fill="#111"/>
<rect x="1256.8" y="1146.4" width="452.2" height="456.3" fill="none" stroke="#1a1a1a" stroke-width="3"/>
<path d="M1256.8 1602.7h7M1256.8 1579.9h5M1256.8 1557.1h5M1256.8 1534.3h5M1256.8 1511.4h5M1256.8 1488.6h7M1256.8 1465.8h5M1256.8 1443h5M1256.8 1420.2h5M1256.8 1397.4h5M1256.8 1374.5h7M1256.8 1351.7h5M1256.8 1328.9h5M1256.8 1306.1h5M1256.8 1283.3h5M1256.8 1260.5h7M1256.8 1237.7h5M1256.8 1214.8h5M1256.8 1192h5M1256.8 1169.2h5M1256.8 1146.4h7M1709 1488.6h-7M1709 1374.5h-7M1709 1260.5h-7M1292 1602.7v-7M1349.8 1602.7v-4M1407.6 1602.7v-7M1465.4 1602.7v-4M1523.2 1602.7v-7M1581 1602.7v-4M1638.8 1602.7v-7M1696.6 1602.7v-4" stroke="#1a1a1a" stroke-width="2.4" fill="none"/>
<text x="1249.4" y="1158.1" text-anchor="end" font-family="'Liberation Sans', Arial, sans-serif" font-size="30">80</text>
<text x="1249.4" y="1269" text-anchor="end" font-family="'Liberation Sans', Arial, sans-serif" font-size="30">60</text>
<text x="1249.4" y="1384.5" text-anchor="end" font-family="'Liberation Sans', Arial, sans-serif" font-size="30">40</text>
<text x="1249.4" y="1495.8" text-anchor="end" font-family="'Liberation Sans', Arial, sans-serif" font-size="30">20</text>
<text x="1249.4" y="1609.8" text-anchor="end" font-family="'Liberation Sans', Arial, sans-serif" font-size="30">0</text>
<text x="1278.6" y="1637.8" font-family="'Liberation Sans', Arial, sans-serif" font-size="30">-2</text>
<text x="1391.6" y="1637.8" font-family="'Liberation Sans', Arial, sans-serif" font-size="30">-1</text>
<text x="1515.5" y="1637.8" font-family="'Liberation Sans', Arial, sans-serif" font-size="30">0</text>
<text x="1632.3" y="1637.8" font-family="'Liberation Sans', Arial, sans-serif" font-size="30">1</text>
<text x="1434.8" y="1689.2" font-family="'Liberation Sans', Arial, sans-serif" font-size="40.3">V<tspan font-size="22.8" dy="12.1">GS</tspan><tspan dy="-12.1"> (V)</tspan></text>
<text transform="translate(1177.4 1455) rotate(-90)" font-family="'Liberation Sans', Arial, sans-serif" font-size="39.5"><tspan font-style="italic">Φ</tspan><tspan font-size="22.6" font-style="italic" dx="-3" dy="12.4">B,eff</tspan><tspan dx="-4.5" dy="-12.4"> (meV)</tspan></text>
<text x="1521.4" y="1197.9" font-family="'Liberation Sans', Arial, sans-serif" font-size="32.9">with 1L BN</text>
<g class="ns" font-family="'Liberation Serif', 'Times New Roman', serif" fill="#161616">
<text x="1408.5" y="1274.3" font-size="39" font-style="italic">d</text>
<text x="1429.5" y="1274.3" font-size="39">Φ</text>
<rect x="1407.2" y="1277.4" width="50" height="1.8" fill="#161616"/>
<text x="1402" y="1311.3" font-size="39" font-style="italic">d</text>
<text x="1421.5" y="1311.3" font-size="39" font-style="italic">V</text>
<text x="1446" y="1324.8" font-size="23" font-style="italic" textLength="29.5" lengthAdjust="spacingAndGlyphs">GS</text>
<text x="1471" y="1291.6" font-size="39" textLength="23" lengthAdjust="spacingAndGlyphs">=</text>
<text x="1503.5" y="1291.6" font-size="39" font-style="italic">-</text>
<text x="1515" y="1291.6" font-size="39" font-style="italic">γ</text>
<text x="1543.8" y="1291.6" font-size="39" textLength="25.5" lengthAdjust="spacingAndGlyphs">=</text>
<text x="1577.5" y="1291.6" font-size="39" font-style="italic">-</text>
<text x="1591" y="1291.6" font-size="39.8" font-style="italic">0.0025</text>
</g>
<g class="ns" font-family="'Liberation Serif', 'Times New Roman', serif" fill="#111">
<text x="1285.6" y="1559.4" font-size="39.3" textLength="31.5" lengthAdjust="spacingAndGlyphs">Φ</text>
<text x="1316.6" y="1571.6" font-size="20.5" textLength="27.5" lengthAdjust="spacingAndGlyphs">SB</text>
<text x="1353.2" y="1559.4" font-size="39.3" textLength="22.5" lengthAdjust="spacingAndGlyphs">~</text>
<text x="1385.5" y="1559.4" font-size="39.3">16</text>
<text x="1432.8" y="1559.4" font-size="39.3">meV</text>
</g>
</svg>
</body></html>
